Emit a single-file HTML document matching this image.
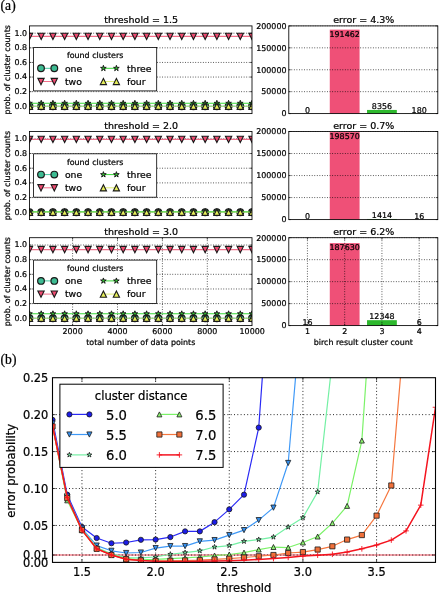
<!DOCTYPE html>
<html><head><meta charset="utf-8"><title>figure</title>
<style>html,body{margin:0;padding:0;background:#fff}svg{display:block}text{white-space:pre;stroke:#000;stroke-width:0.22px;paint-order:stroke}</style></head>
<body>
<svg width="439" height="592" viewBox="0 0 439 592" font-family='"DejaVu Sans", "Liberation Sans", sans-serif' stroke-linecap="butt">
<rect width="439" height="592" fill="#fff"/>
<text x="0.6" y="10" font-size="13.6" text-anchor="start" fill="#000" font-family='"Liberation Serif", "DejaVu Serif", serif'>(a)</text>
<text x="0.6" y="364.2" font-size="13.6" text-anchor="start" fill="#000" font-family='"Liberation Serif", "DejaVu Serif", serif'>(b)</text>
<clipPath id="cl0"><rect x="29.5" y="25.9" width="222.5" height="87.7"/></clipPath>
<g clip-path="url(#cl0)">
<path d="M29.5 106.29H252.0" stroke="#000" stroke-width="0.7" stroke-dasharray="0.9 1.65"/>
<path d="M29.5 91.67H252.0" stroke="#000" stroke-width="0.7" stroke-dasharray="0.9 1.65"/>
<path d="M29.5 77.06H252.0" stroke="#000" stroke-width="0.7" stroke-dasharray="0.9 1.65"/>
<path d="M29.5 62.44H252.0" stroke="#000" stroke-width="0.7" stroke-dasharray="0.9 1.65"/>
<path d="M29.5 47.83H252.0" stroke="#000" stroke-width="0.7" stroke-dasharray="0.9 1.65"/>
<path d="M29.5 33.21H252.0" stroke="#000" stroke-width="0.7" stroke-dasharray="0.9 1.65"/>
<path d="M29.5 106.29H252.0" stroke="#45c9a0" stroke-width="1.15" stroke-opacity="1"/>
<circle cx="29.5" cy="106.29" r="3.35" fill="#3dbb92" stroke="#1a1a1a" stroke-width="1.2"/>
<circle cx="41.21" cy="106.29" r="3.35" fill="#3dbb92" stroke="#1a1a1a" stroke-width="1.2"/>
<circle cx="52.92" cy="106.29" r="3.35" fill="#3dbb92" stroke="#1a1a1a" stroke-width="1.2"/>
<circle cx="64.63" cy="106.29" r="3.35" fill="#3dbb92" stroke="#1a1a1a" stroke-width="1.2"/>
<circle cx="76.34" cy="106.29" r="3.35" fill="#3dbb92" stroke="#1a1a1a" stroke-width="1.2"/>
<circle cx="88.05" cy="106.29" r="3.35" fill="#3dbb92" stroke="#1a1a1a" stroke-width="1.2"/>
<circle cx="99.76" cy="106.29" r="3.35" fill="#3dbb92" stroke="#1a1a1a" stroke-width="1.2"/>
<circle cx="111.47" cy="106.29" r="3.35" fill="#3dbb92" stroke="#1a1a1a" stroke-width="1.2"/>
<circle cx="123.18" cy="106.29" r="3.35" fill="#3dbb92" stroke="#1a1a1a" stroke-width="1.2"/>
<circle cx="134.89" cy="106.29" r="3.35" fill="#3dbb92" stroke="#1a1a1a" stroke-width="1.2"/>
<circle cx="146.61" cy="106.29" r="3.35" fill="#3dbb92" stroke="#1a1a1a" stroke-width="1.2"/>
<circle cx="158.32" cy="106.29" r="3.35" fill="#3dbb92" stroke="#1a1a1a" stroke-width="1.2"/>
<circle cx="170.03" cy="106.29" r="3.35" fill="#3dbb92" stroke="#1a1a1a" stroke-width="1.2"/>
<circle cx="181.74" cy="106.29" r="3.35" fill="#3dbb92" stroke="#1a1a1a" stroke-width="1.2"/>
<circle cx="193.45" cy="106.29" r="3.35" fill="#3dbb92" stroke="#1a1a1a" stroke-width="1.2"/>
<circle cx="205.16" cy="106.29" r="3.35" fill="#3dbb92" stroke="#1a1a1a" stroke-width="1.2"/>
<circle cx="216.87" cy="106.29" r="3.35" fill="#3dbb92" stroke="#1a1a1a" stroke-width="1.2"/>
<circle cx="228.58" cy="106.29" r="3.35" fill="#3dbb92" stroke="#1a1a1a" stroke-width="1.2"/>
<circle cx="240.29" cy="106.29" r="3.35" fill="#3dbb92" stroke="#1a1a1a" stroke-width="1.2"/>
<circle cx="252" cy="106.29" r="3.35" fill="#3dbb92" stroke="#1a1a1a" stroke-width="1.2"/>
<path d="M29.5 36.33H252.0" stroke="#f2708a" stroke-width="1.15" stroke-opacity="1"/>
<polygon points="26.35,33.18 32.65,33.18 29.5,39.48" fill="#ee4a70" stroke="#1a1a1a" stroke-width="1.1" stroke-linejoin="miter"/>
<polygon points="38.06,33.18 44.36,33.18 41.21,39.48" fill="#ee4a70" stroke="#1a1a1a" stroke-width="1.1" stroke-linejoin="miter"/>
<polygon points="49.77,33.18 56.07,33.18 52.92,39.48" fill="#ee4a70" stroke="#1a1a1a" stroke-width="1.1" stroke-linejoin="miter"/>
<polygon points="61.48,33.18 67.78,33.18 64.63,39.48" fill="#ee4a70" stroke="#1a1a1a" stroke-width="1.1" stroke-linejoin="miter"/>
<polygon points="73.19,33.18 79.49,33.18 76.34,39.48" fill="#ee4a70" stroke="#1a1a1a" stroke-width="1.1" stroke-linejoin="miter"/>
<polygon points="84.9,33.18 91.2,33.18 88.05,39.48" fill="#ee4a70" stroke="#1a1a1a" stroke-width="1.1" stroke-linejoin="miter"/>
<polygon points="96.61,33.18 102.91,33.18 99.76,39.48" fill="#ee4a70" stroke="#1a1a1a" stroke-width="1.1" stroke-linejoin="miter"/>
<polygon points="108.32,33.18 114.62,33.18 111.47,39.48" fill="#ee4a70" stroke="#1a1a1a" stroke-width="1.1" stroke-linejoin="miter"/>
<polygon points="120.03,33.18 126.33,33.18 123.18,39.48" fill="#ee4a70" stroke="#1a1a1a" stroke-width="1.1" stroke-linejoin="miter"/>
<polygon points="131.74,33.18 138.04,33.18 134.89,39.48" fill="#ee4a70" stroke="#1a1a1a" stroke-width="1.1" stroke-linejoin="miter"/>
<polygon points="143.46,33.18 149.76,33.18 146.61,39.48" fill="#ee4a70" stroke="#1a1a1a" stroke-width="1.1" stroke-linejoin="miter"/>
<polygon points="155.17,33.18 161.47,33.18 158.32,39.48" fill="#ee4a70" stroke="#1a1a1a" stroke-width="1.1" stroke-linejoin="miter"/>
<polygon points="166.88,33.18 173.18,33.18 170.03,39.48" fill="#ee4a70" stroke="#1a1a1a" stroke-width="1.1" stroke-linejoin="miter"/>
<polygon points="178.59,33.18 184.89,33.18 181.74,39.48" fill="#ee4a70" stroke="#1a1a1a" stroke-width="1.1" stroke-linejoin="miter"/>
<polygon points="190.3,33.18 196.6,33.18 193.45,39.48" fill="#ee4a70" stroke="#1a1a1a" stroke-width="1.1" stroke-linejoin="miter"/>
<polygon points="202.01,33.18 208.31,33.18 205.16,39.48" fill="#ee4a70" stroke="#1a1a1a" stroke-width="1.1" stroke-linejoin="miter"/>
<polygon points="213.72,33.18 220.02,33.18 216.87,39.48" fill="#ee4a70" stroke="#1a1a1a" stroke-width="1.1" stroke-linejoin="miter"/>
<polygon points="225.43,33.18 231.73,33.18 228.58,39.48" fill="#ee4a70" stroke="#1a1a1a" stroke-width="1.1" stroke-linejoin="miter"/>
<polygon points="237.14,33.18 243.44,33.18 240.29,39.48" fill="#ee4a70" stroke="#1a1a1a" stroke-width="1.1" stroke-linejoin="miter"/>
<polygon points="248.85,33.18 255.15,33.18 252,39.48" fill="#ee4a70" stroke="#1a1a1a" stroke-width="1.1" stroke-linejoin="miter"/>
<path d="M29.5 103.24H252.0" stroke="#38d838" stroke-width="1.15" stroke-opacity="1"/>
<polygon points="29.5,100.29 30.16,102.33 32.31,102.33 30.57,103.59 31.23,105.62 29.5,104.37 27.77,105.62 28.43,103.59 26.69,102.33 28.84,102.33" fill="#2fc42f" stroke="#1a1a1a" stroke-width="1.0" stroke-linejoin="miter"/>
<polygon points="41.21,100.29 41.87,102.33 44.02,102.33 42.28,103.59 42.94,105.62 41.21,104.37 39.48,105.62 40.14,103.59 38.4,102.33 40.55,102.33" fill="#2fc42f" stroke="#1a1a1a" stroke-width="1.0" stroke-linejoin="miter"/>
<polygon points="52.92,100.29 53.58,102.33 55.73,102.33 53.99,103.59 54.66,105.62 52.92,104.37 51.19,105.62 51.85,103.59 50.12,102.33 52.26,102.33" fill="#2fc42f" stroke="#1a1a1a" stroke-width="1.0" stroke-linejoin="miter"/>
<polygon points="64.63,100.29 65.29,102.33 67.44,102.33 65.7,103.59 66.37,105.62 64.63,104.37 62.9,105.62 63.56,103.59 61.83,102.33 63.97,102.33" fill="#2fc42f" stroke="#1a1a1a" stroke-width="1.0" stroke-linejoin="miter"/>
<polygon points="76.34,100.29 77,102.33 79.15,102.33 77.41,103.59 78.08,105.62 76.34,104.37 74.61,105.62 75.27,103.59 73.54,102.33 75.68,102.33" fill="#2fc42f" stroke="#1a1a1a" stroke-width="1.0" stroke-linejoin="miter"/>
<polygon points="88.05,100.29 88.71,102.33 90.86,102.33 89.12,103.59 89.79,105.62 88.05,104.37 86.32,105.62 86.98,103.59 85.25,102.33 87.39,102.33" fill="#2fc42f" stroke="#1a1a1a" stroke-width="1.0" stroke-linejoin="miter"/>
<polygon points="99.76,100.29 100.43,102.33 102.57,102.33 100.83,103.59 101.5,105.62 99.76,104.37 98.03,105.62 98.69,103.59 96.96,102.33 99.1,102.33" fill="#2fc42f" stroke="#1a1a1a" stroke-width="1.0" stroke-linejoin="miter"/>
<polygon points="111.47,100.29 112.14,102.33 114.28,102.33 112.55,103.59 113.21,105.62 111.47,104.37 109.74,105.62 110.4,103.59 108.67,102.33 110.81,102.33" fill="#2fc42f" stroke="#1a1a1a" stroke-width="1.0" stroke-linejoin="miter"/>
<polygon points="123.18,100.29 123.85,102.33 125.99,102.33 124.26,103.59 124.92,105.62 123.18,104.37 121.45,105.62 122.11,103.59 120.38,102.33 122.52,102.33" fill="#2fc42f" stroke="#1a1a1a" stroke-width="1.0" stroke-linejoin="miter"/>
<polygon points="134.89,100.29 135.56,102.33 137.7,102.33 135.97,103.59 136.63,105.62 134.89,104.37 133.16,105.62 133.82,103.59 132.09,102.33 134.23,102.33" fill="#2fc42f" stroke="#1a1a1a" stroke-width="1.0" stroke-linejoin="miter"/>
<polygon points="146.61,100.29 147.27,102.33 149.41,102.33 147.68,103.59 148.34,105.62 146.61,104.37 144.87,105.62 145.53,103.59 143.8,102.33 145.94,102.33" fill="#2fc42f" stroke="#1a1a1a" stroke-width="1.0" stroke-linejoin="miter"/>
<polygon points="158.32,100.29 158.98,102.33 161.12,102.33 159.39,103.59 160.05,105.62 158.32,104.37 156.58,105.62 157.24,103.59 155.51,102.33 157.65,102.33" fill="#2fc42f" stroke="#1a1a1a" stroke-width="1.0" stroke-linejoin="miter"/>
<polygon points="170.03,100.29 170.69,102.33 172.83,102.33 171.1,103.59 171.76,105.62 170.03,104.37 168.29,105.62 168.95,103.59 167.22,102.33 169.36,102.33" fill="#2fc42f" stroke="#1a1a1a" stroke-width="1.0" stroke-linejoin="miter"/>
<polygon points="181.74,100.29 182.4,102.33 184.54,102.33 182.81,103.59 183.47,105.62 181.74,104.37 180,105.62 180.67,103.59 178.93,102.33 181.07,102.33" fill="#2fc42f" stroke="#1a1a1a" stroke-width="1.0" stroke-linejoin="miter"/>
<polygon points="193.45,100.29 194.11,102.33 196.25,102.33 194.52,103.59 195.18,105.62 193.45,104.37 191.71,105.62 192.38,103.59 190.64,102.33 192.79,102.33" fill="#2fc42f" stroke="#1a1a1a" stroke-width="1.0" stroke-linejoin="miter"/>
<polygon points="205.16,100.29 205.82,102.33 207.96,102.33 206.23,103.59 206.89,105.62 205.16,104.37 203.42,105.62 204.09,103.59 202.35,102.33 204.5,102.33" fill="#2fc42f" stroke="#1a1a1a" stroke-width="1.0" stroke-linejoin="miter"/>
<polygon points="216.87,100.29 217.53,102.33 219.67,102.33 217.94,103.59 218.6,105.62 216.87,104.37 215.13,105.62 215.8,103.59 214.06,102.33 216.21,102.33" fill="#2fc42f" stroke="#1a1a1a" stroke-width="1.0" stroke-linejoin="miter"/>
<polygon points="228.58,100.29 229.24,102.33 231.38,102.33 229.65,103.59 230.31,105.62 228.58,104.37 226.84,105.62 227.51,103.59 225.77,102.33 227.92,102.33" fill="#2fc42f" stroke="#1a1a1a" stroke-width="1.0" stroke-linejoin="miter"/>
<polygon points="240.29,100.29 240.95,102.33 243.1,102.33 241.36,103.59 242.02,105.62 240.29,104.37 238.56,105.62 239.22,103.59 237.48,102.33 239.63,102.33" fill="#2fc42f" stroke="#1a1a1a" stroke-width="1.0" stroke-linejoin="miter"/>
<polygon points="252,100.29 252.66,102.33 254.81,102.33 253.07,103.59 253.73,105.62 252,104.37 250.27,105.62 250.93,103.59 249.19,102.33 251.34,102.33" fill="#2fc42f" stroke="#1a1a1a" stroke-width="1.0" stroke-linejoin="miter"/>
<path d="M29.5 106.23H252.0" stroke="#e0ee78" stroke-width="1.15" stroke-opacity="0.7"/>
<polygon points="26.4,109.33 32.6,109.33 29.5,103.13" fill="#e6ee5a" stroke="#1a1a1a" stroke-width="1.1" stroke-linejoin="miter"/>
<polygon points="38.11,109.33 44.31,109.33 41.21,103.13" fill="#e6ee5a" stroke="#1a1a1a" stroke-width="1.1" stroke-linejoin="miter"/>
<polygon points="49.82,109.33 56.02,109.33 52.92,103.13" fill="#e6ee5a" stroke="#1a1a1a" stroke-width="1.1" stroke-linejoin="miter"/>
<polygon points="61.53,109.33 67.73,109.33 64.63,103.13" fill="#e6ee5a" stroke="#1a1a1a" stroke-width="1.1" stroke-linejoin="miter"/>
<polygon points="73.24,109.33 79.44,109.33 76.34,103.13" fill="#e6ee5a" stroke="#1a1a1a" stroke-width="1.1" stroke-linejoin="miter"/>
<polygon points="84.95,109.33 91.15,109.33 88.05,103.13" fill="#e6ee5a" stroke="#1a1a1a" stroke-width="1.1" stroke-linejoin="miter"/>
<polygon points="96.66,109.33 102.86,109.33 99.76,103.13" fill="#e6ee5a" stroke="#1a1a1a" stroke-width="1.1" stroke-linejoin="miter"/>
<polygon points="108.37,109.33 114.57,109.33 111.47,103.13" fill="#e6ee5a" stroke="#1a1a1a" stroke-width="1.1" stroke-linejoin="miter"/>
<polygon points="120.08,109.33 126.28,109.33 123.18,103.13" fill="#e6ee5a" stroke="#1a1a1a" stroke-width="1.1" stroke-linejoin="miter"/>
<polygon points="131.79,109.33 137.99,109.33 134.89,103.13" fill="#e6ee5a" stroke="#1a1a1a" stroke-width="1.1" stroke-linejoin="miter"/>
<polygon points="143.51,109.33 149.71,109.33 146.61,103.13" fill="#e6ee5a" stroke="#1a1a1a" stroke-width="1.1" stroke-linejoin="miter"/>
<polygon points="155.22,109.33 161.42,109.33 158.32,103.13" fill="#e6ee5a" stroke="#1a1a1a" stroke-width="1.1" stroke-linejoin="miter"/>
<polygon points="166.93,109.33 173.13,109.33 170.03,103.13" fill="#e6ee5a" stroke="#1a1a1a" stroke-width="1.1" stroke-linejoin="miter"/>
<polygon points="178.64,109.33 184.84,109.33 181.74,103.13" fill="#e6ee5a" stroke="#1a1a1a" stroke-width="1.1" stroke-linejoin="miter"/>
<polygon points="190.35,109.33 196.55,109.33 193.45,103.13" fill="#e6ee5a" stroke="#1a1a1a" stroke-width="1.1" stroke-linejoin="miter"/>
<polygon points="202.06,109.33 208.26,109.33 205.16,103.13" fill="#e6ee5a" stroke="#1a1a1a" stroke-width="1.1" stroke-linejoin="miter"/>
<polygon points="213.77,109.33 219.97,109.33 216.87,103.13" fill="#e6ee5a" stroke="#1a1a1a" stroke-width="1.1" stroke-linejoin="miter"/>
<polygon points="225.48,109.33 231.68,109.33 228.58,103.13" fill="#e6ee5a" stroke="#1a1a1a" stroke-width="1.1" stroke-linejoin="miter"/>
<polygon points="237.19,109.33 243.39,109.33 240.29,103.13" fill="#e6ee5a" stroke="#1a1a1a" stroke-width="1.1" stroke-linejoin="miter"/>
<polygon points="248.9,109.33 255.1,109.33 252,103.13" fill="#e6ee5a" stroke="#1a1a1a" stroke-width="1.1" stroke-linejoin="miter"/>
</g>
<rect x="33.6" y="47.5" width="123.1" height="43.4" fill="#fff" stroke="#000" stroke-width="0.8"/>
<text x="95.1" y="58.2" font-size="7.95" text-anchor="middle" fill="#000">found clusters</text>
<path d="M41.0 68.3H54.3" stroke="#45c9a0" stroke-width="1"/>
<circle cx="41" cy="68.3" r="3.35" fill="#3dbb92" stroke="#1a1a1a" stroke-width="1.2"/>
<circle cx="54.3" cy="68.3" r="3.35" fill="#3dbb92" stroke="#1a1a1a" stroke-width="1.2"/>
<text x="64.9" y="71.5" font-size="9.3" text-anchor="start" fill="#000">one</text>
<path d="M41.0 81.5H54.3" stroke="#f2708a" stroke-width="1"/>
<polygon points="37.85,78.35 44.15,78.35 41,84.65" fill="#ee4a70" stroke="#1a1a1a" stroke-width="1.1" stroke-linejoin="miter"/>
<polygon points="51.15,78.35 57.45,78.35 54.3,84.65" fill="#ee4a70" stroke="#1a1a1a" stroke-width="1.1" stroke-linejoin="miter"/>
<text x="64.9" y="84.7" font-size="9.3" text-anchor="start" fill="#000">two</text>
<path d="M103.4 68.3H116.4" stroke="#38d838" stroke-width="1"/>
<polygon points="103.4,65.35 104.06,67.39 106.21,67.39 104.47,68.65 105.13,70.69 103.4,69.43 101.67,70.69 102.33,68.65 100.59,67.39 102.74,67.39" fill="#2fc42f" stroke="#1a1a1a" stroke-width="1.0" stroke-linejoin="miter"/>
<polygon points="116.4,65.35 117.06,67.39 119.21,67.39 117.47,68.65 118.13,70.69 116.4,69.43 114.67,70.69 115.33,68.65 113.59,67.39 115.74,67.39" fill="#2fc42f" stroke="#1a1a1a" stroke-width="1.0" stroke-linejoin="miter"/>
<text x="126.9" y="71.5" font-size="9.3" text-anchor="start" fill="#000">three</text>
<path d="M103.4 81.5H116.4" stroke="#e0ee78" stroke-width="1"/>
<polygon points="100.3,84.6 106.5,84.6 103.4,78.4" fill="#e6ee5a" stroke="#1a1a1a" stroke-width="1.1" stroke-linejoin="miter"/>
<polygon points="113.3,84.6 119.5,84.6 116.4,78.4" fill="#e6ee5a" stroke="#1a1a1a" stroke-width="1.1" stroke-linejoin="miter"/>
<text x="126.9" y="84.7" font-size="9.3" text-anchor="start" fill="#000">four</text>
<rect x="29.5" y="25.9" width="222.5" height="87.7" fill="none" stroke="#000" stroke-width="0.85"/>
<text x="27.1" y="108.59" font-size="7.95" text-anchor="end" fill="#000">0.0</text>
<text x="27.1" y="93.97" font-size="7.95" text-anchor="end" fill="#000">0.2</text>
<text x="27.1" y="79.36" font-size="7.95" text-anchor="end" fill="#000">0.4</text>
<text x="27.1" y="64.74" font-size="7.95" text-anchor="end" fill="#000">0.6</text>
<text x="27.1" y="50.12" font-size="7.95" text-anchor="end" fill="#000">0.8</text>
<text x="27.1" y="35.51" font-size="7.95" text-anchor="end" fill="#000">1.0</text>
<path d="M29.5 106.29h2M252.0 106.29h-2M29.5 91.67h2M252.0 91.67h-2M29.5 77.06h2M252.0 77.06h-2M29.5 62.44h2M252.0 62.44h-2M29.5 47.83h2M252.0 47.83h-2M29.5 33.21h2M252.0 33.21h-2" stroke="#000" stroke-width="0.6"/>
<text x="141.25" y="23.1" font-size="9.5" text-anchor="middle" fill="#000">threshold = 1.5</text>
<text x="10.2" y="69.75" font-size="7.95" text-anchor="middle" fill="#000" transform="rotate(-90 10.2 69.75)">prob. of cluster counts</text>
<rect x="329.78" y="29.64" width="29.8" height="83.96" fill="#ef5077"/>
<rect x="367.03" y="109.94" width="29.8" height="3.66" fill="#2db82d"/>
<rect x="404.28" y="113.52" width="29.8" height="0.08" fill="#2db82d"/>
<path d="M288.8 91.67H437.8" stroke="#000" stroke-width="0.7" stroke-dasharray="0.9 1.65"/>
<path d="M288.8 69.75H437.8" stroke="#000" stroke-width="0.7" stroke-dasharray="0.9 1.65"/>
<path d="M288.8 47.83H437.8" stroke="#000" stroke-width="0.7" stroke-dasharray="0.9 1.65"/>
<rect x="288.8" y="25.9" width="149" height="87.7" fill="none" stroke="#000" stroke-width="0.85"/>
<path d="M288.8 25.9H437.8" stroke="#000" stroke-width="0.5" stroke-dasharray="0.7 1.7"/>
<text x="307.43" y="112.6" font-size="7.95" text-anchor="middle" fill="#000">0</text>
<text x="344.68" y="36.64" font-size="7.95" text-anchor="middle" fill="#000">191462</text>
<text x="381.93" y="108.94" font-size="7.95" text-anchor="middle" fill="#000">8356</text>
<text x="419.18" y="112.52" font-size="7.95" text-anchor="middle" fill="#000">180</text>
<text x="286.5" y="116.4" font-size="7.95" text-anchor="end" fill="#000">0</text>
<text x="286.5" y="94.47" font-size="7.95" text-anchor="end" fill="#000">50000</text>
<text x="286.5" y="72.55" font-size="7.95" text-anchor="end" fill="#000">100000</text>
<text x="286.5" y="50.62" font-size="7.95" text-anchor="end" fill="#000">150000</text>
<text x="286.5" y="28.7" font-size="7.95" text-anchor="end" fill="#000">200000</text>
<path d="M288.8 113.6h2M437.8 113.6h-2M288.8 91.67h2M437.8 91.67h-2M288.8 69.75h2M437.8 69.75h-2M288.8 47.83h2M437.8 47.83h-2M288.8 25.9h2M437.8 25.9h-2" stroke="#000" stroke-width="0.6"/>
<text x="363.8" y="23.1" font-size="9.5" text-anchor="middle" fill="#000">error = 4.3%</text>
<clipPath id="cl1"><rect x="29.5" y="131.5" width="222.5" height="88.1"/></clipPath>
<g clip-path="url(#cl1)">
<path d="M29.5 212.26H252.0" stroke="#000" stroke-width="0.7" stroke-dasharray="0.9 1.65"/>
<path d="M29.5 197.57H252.0" stroke="#000" stroke-width="0.7" stroke-dasharray="0.9 1.65"/>
<path d="M29.5 182.89H252.0" stroke="#000" stroke-width="0.7" stroke-dasharray="0.9 1.65"/>
<path d="M29.5 168.21H252.0" stroke="#000" stroke-width="0.7" stroke-dasharray="0.9 1.65"/>
<path d="M29.5 153.53H252.0" stroke="#000" stroke-width="0.7" stroke-dasharray="0.9 1.65"/>
<path d="M29.5 138.84H252.0" stroke="#000" stroke-width="0.7" stroke-dasharray="0.9 1.65"/>
<path d="M29.5 212.26H252.0" stroke="#45c9a0" stroke-width="1.15" stroke-opacity="1"/>
<circle cx="29.5" cy="212.26" r="3.35" fill="#3dbb92" stroke="#1a1a1a" stroke-width="1.2"/>
<circle cx="41.21" cy="212.26" r="3.35" fill="#3dbb92" stroke="#1a1a1a" stroke-width="1.2"/>
<circle cx="52.92" cy="212.26" r="3.35" fill="#3dbb92" stroke="#1a1a1a" stroke-width="1.2"/>
<circle cx="64.63" cy="212.26" r="3.35" fill="#3dbb92" stroke="#1a1a1a" stroke-width="1.2"/>
<circle cx="76.34" cy="212.26" r="3.35" fill="#3dbb92" stroke="#1a1a1a" stroke-width="1.2"/>
<circle cx="88.05" cy="212.26" r="3.35" fill="#3dbb92" stroke="#1a1a1a" stroke-width="1.2"/>
<circle cx="99.76" cy="212.26" r="3.35" fill="#3dbb92" stroke="#1a1a1a" stroke-width="1.2"/>
<circle cx="111.47" cy="212.26" r="3.35" fill="#3dbb92" stroke="#1a1a1a" stroke-width="1.2"/>
<circle cx="123.18" cy="212.26" r="3.35" fill="#3dbb92" stroke="#1a1a1a" stroke-width="1.2"/>
<circle cx="134.89" cy="212.26" r="3.35" fill="#3dbb92" stroke="#1a1a1a" stroke-width="1.2"/>
<circle cx="146.61" cy="212.26" r="3.35" fill="#3dbb92" stroke="#1a1a1a" stroke-width="1.2"/>
<circle cx="158.32" cy="212.26" r="3.35" fill="#3dbb92" stroke="#1a1a1a" stroke-width="1.2"/>
<circle cx="170.03" cy="212.26" r="3.35" fill="#3dbb92" stroke="#1a1a1a" stroke-width="1.2"/>
<circle cx="181.74" cy="212.26" r="3.35" fill="#3dbb92" stroke="#1a1a1a" stroke-width="1.2"/>
<circle cx="193.45" cy="212.26" r="3.35" fill="#3dbb92" stroke="#1a1a1a" stroke-width="1.2"/>
<circle cx="205.16" cy="212.26" r="3.35" fill="#3dbb92" stroke="#1a1a1a" stroke-width="1.2"/>
<circle cx="216.87" cy="212.26" r="3.35" fill="#3dbb92" stroke="#1a1a1a" stroke-width="1.2"/>
<circle cx="228.58" cy="212.26" r="3.35" fill="#3dbb92" stroke="#1a1a1a" stroke-width="1.2"/>
<circle cx="240.29" cy="212.26" r="3.35" fill="#3dbb92" stroke="#1a1a1a" stroke-width="1.2"/>
<circle cx="252" cy="212.26" r="3.35" fill="#3dbb92" stroke="#1a1a1a" stroke-width="1.2"/>
<path d="M29.5 139.37H252.0" stroke="#f2708a" stroke-width="1.15" stroke-opacity="1"/>
<polygon points="26.35,136.22 32.65,136.22 29.5,142.52" fill="#ee4a70" stroke="#1a1a1a" stroke-width="1.1" stroke-linejoin="miter"/>
<polygon points="38.06,136.22 44.36,136.22 41.21,142.52" fill="#ee4a70" stroke="#1a1a1a" stroke-width="1.1" stroke-linejoin="miter"/>
<polygon points="49.77,136.22 56.07,136.22 52.92,142.52" fill="#ee4a70" stroke="#1a1a1a" stroke-width="1.1" stroke-linejoin="miter"/>
<polygon points="61.48,136.22 67.78,136.22 64.63,142.52" fill="#ee4a70" stroke="#1a1a1a" stroke-width="1.1" stroke-linejoin="miter"/>
<polygon points="73.19,136.22 79.49,136.22 76.34,142.52" fill="#ee4a70" stroke="#1a1a1a" stroke-width="1.1" stroke-linejoin="miter"/>
<polygon points="84.9,136.22 91.2,136.22 88.05,142.52" fill="#ee4a70" stroke="#1a1a1a" stroke-width="1.1" stroke-linejoin="miter"/>
<polygon points="96.61,136.22 102.91,136.22 99.76,142.52" fill="#ee4a70" stroke="#1a1a1a" stroke-width="1.1" stroke-linejoin="miter"/>
<polygon points="108.32,136.22 114.62,136.22 111.47,142.52" fill="#ee4a70" stroke="#1a1a1a" stroke-width="1.1" stroke-linejoin="miter"/>
<polygon points="120.03,136.22 126.33,136.22 123.18,142.52" fill="#ee4a70" stroke="#1a1a1a" stroke-width="1.1" stroke-linejoin="miter"/>
<polygon points="131.74,136.22 138.04,136.22 134.89,142.52" fill="#ee4a70" stroke="#1a1a1a" stroke-width="1.1" stroke-linejoin="miter"/>
<polygon points="143.46,136.22 149.76,136.22 146.61,142.52" fill="#ee4a70" stroke="#1a1a1a" stroke-width="1.1" stroke-linejoin="miter"/>
<polygon points="155.17,136.22 161.47,136.22 158.32,142.52" fill="#ee4a70" stroke="#1a1a1a" stroke-width="1.1" stroke-linejoin="miter"/>
<polygon points="166.88,136.22 173.18,136.22 170.03,142.52" fill="#ee4a70" stroke="#1a1a1a" stroke-width="1.1" stroke-linejoin="miter"/>
<polygon points="178.59,136.22 184.89,136.22 181.74,142.52" fill="#ee4a70" stroke="#1a1a1a" stroke-width="1.1" stroke-linejoin="miter"/>
<polygon points="190.3,136.22 196.6,136.22 193.45,142.52" fill="#ee4a70" stroke="#1a1a1a" stroke-width="1.1" stroke-linejoin="miter"/>
<polygon points="202.01,136.22 208.31,136.22 205.16,142.52" fill="#ee4a70" stroke="#1a1a1a" stroke-width="1.1" stroke-linejoin="miter"/>
<polygon points="213.72,136.22 220.02,136.22 216.87,142.52" fill="#ee4a70" stroke="#1a1a1a" stroke-width="1.1" stroke-linejoin="miter"/>
<polygon points="225.43,136.22 231.73,136.22 228.58,142.52" fill="#ee4a70" stroke="#1a1a1a" stroke-width="1.1" stroke-linejoin="miter"/>
<polygon points="237.14,136.22 243.44,136.22 240.29,142.52" fill="#ee4a70" stroke="#1a1a1a" stroke-width="1.1" stroke-linejoin="miter"/>
<polygon points="248.85,136.22 255.15,136.22 252,142.52" fill="#ee4a70" stroke="#1a1a1a" stroke-width="1.1" stroke-linejoin="miter"/>
<path d="M29.5 211.74H252.0" stroke="#38d838" stroke-width="1.15" stroke-opacity="1"/>
<polygon points="29.5,208.79 30.16,210.83 32.31,210.83 30.57,212.09 31.23,214.13 29.5,212.87 27.77,214.13 28.43,212.09 26.69,210.83 28.84,210.83" fill="#2fc42f" stroke="#1a1a1a" stroke-width="1.0" stroke-linejoin="miter"/>
<polygon points="41.21,208.79 41.87,210.83 44.02,210.83 42.28,212.09 42.94,214.13 41.21,212.87 39.48,214.13 40.14,212.09 38.4,210.83 40.55,210.83" fill="#2fc42f" stroke="#1a1a1a" stroke-width="1.0" stroke-linejoin="miter"/>
<polygon points="52.92,208.79 53.58,210.83 55.73,210.83 53.99,212.09 54.66,214.13 52.92,212.87 51.19,214.13 51.85,212.09 50.12,210.83 52.26,210.83" fill="#2fc42f" stroke="#1a1a1a" stroke-width="1.0" stroke-linejoin="miter"/>
<polygon points="64.63,208.79 65.29,210.83 67.44,210.83 65.7,212.09 66.37,214.13 64.63,212.87 62.9,214.13 63.56,212.09 61.83,210.83 63.97,210.83" fill="#2fc42f" stroke="#1a1a1a" stroke-width="1.0" stroke-linejoin="miter"/>
<polygon points="76.34,208.79 77,210.83 79.15,210.83 77.41,212.09 78.08,214.13 76.34,212.87 74.61,214.13 75.27,212.09 73.54,210.83 75.68,210.83" fill="#2fc42f" stroke="#1a1a1a" stroke-width="1.0" stroke-linejoin="miter"/>
<polygon points="88.05,208.79 88.71,210.83 90.86,210.83 89.12,212.09 89.79,214.13 88.05,212.87 86.32,214.13 86.98,212.09 85.25,210.83 87.39,210.83" fill="#2fc42f" stroke="#1a1a1a" stroke-width="1.0" stroke-linejoin="miter"/>
<polygon points="99.76,208.79 100.43,210.83 102.57,210.83 100.83,212.09 101.5,214.13 99.76,212.87 98.03,214.13 98.69,212.09 96.96,210.83 99.1,210.83" fill="#2fc42f" stroke="#1a1a1a" stroke-width="1.0" stroke-linejoin="miter"/>
<polygon points="111.47,208.79 112.14,210.83 114.28,210.83 112.55,212.09 113.21,214.13 111.47,212.87 109.74,214.13 110.4,212.09 108.67,210.83 110.81,210.83" fill="#2fc42f" stroke="#1a1a1a" stroke-width="1.0" stroke-linejoin="miter"/>
<polygon points="123.18,208.79 123.85,210.83 125.99,210.83 124.26,212.09 124.92,214.13 123.18,212.87 121.45,214.13 122.11,212.09 120.38,210.83 122.52,210.83" fill="#2fc42f" stroke="#1a1a1a" stroke-width="1.0" stroke-linejoin="miter"/>
<polygon points="134.89,208.79 135.56,210.83 137.7,210.83 135.97,212.09 136.63,214.13 134.89,212.87 133.16,214.13 133.82,212.09 132.09,210.83 134.23,210.83" fill="#2fc42f" stroke="#1a1a1a" stroke-width="1.0" stroke-linejoin="miter"/>
<polygon points="146.61,208.79 147.27,210.83 149.41,210.83 147.68,212.09 148.34,214.13 146.61,212.87 144.87,214.13 145.53,212.09 143.8,210.83 145.94,210.83" fill="#2fc42f" stroke="#1a1a1a" stroke-width="1.0" stroke-linejoin="miter"/>
<polygon points="158.32,208.79 158.98,210.83 161.12,210.83 159.39,212.09 160.05,214.13 158.32,212.87 156.58,214.13 157.24,212.09 155.51,210.83 157.65,210.83" fill="#2fc42f" stroke="#1a1a1a" stroke-width="1.0" stroke-linejoin="miter"/>
<polygon points="170.03,208.79 170.69,210.83 172.83,210.83 171.1,212.09 171.76,214.13 170.03,212.87 168.29,214.13 168.95,212.09 167.22,210.83 169.36,210.83" fill="#2fc42f" stroke="#1a1a1a" stroke-width="1.0" stroke-linejoin="miter"/>
<polygon points="181.74,208.79 182.4,210.83 184.54,210.83 182.81,212.09 183.47,214.13 181.74,212.87 180,214.13 180.67,212.09 178.93,210.83 181.07,210.83" fill="#2fc42f" stroke="#1a1a1a" stroke-width="1.0" stroke-linejoin="miter"/>
<polygon points="193.45,208.79 194.11,210.83 196.25,210.83 194.52,212.09 195.18,214.13 193.45,212.87 191.71,214.13 192.38,212.09 190.64,210.83 192.79,210.83" fill="#2fc42f" stroke="#1a1a1a" stroke-width="1.0" stroke-linejoin="miter"/>
<polygon points="205.16,208.79 205.82,210.83 207.96,210.83 206.23,212.09 206.89,214.13 205.16,212.87 203.42,214.13 204.09,212.09 202.35,210.83 204.5,210.83" fill="#2fc42f" stroke="#1a1a1a" stroke-width="1.0" stroke-linejoin="miter"/>
<polygon points="216.87,208.79 217.53,210.83 219.67,210.83 217.94,212.09 218.6,214.13 216.87,212.87 215.13,214.13 215.8,212.09 214.06,210.83 216.21,210.83" fill="#2fc42f" stroke="#1a1a1a" stroke-width="1.0" stroke-linejoin="miter"/>
<polygon points="228.58,208.79 229.24,210.83 231.38,210.83 229.65,212.09 230.31,214.13 228.58,212.87 226.84,214.13 227.51,212.09 225.77,210.83 227.92,210.83" fill="#2fc42f" stroke="#1a1a1a" stroke-width="1.0" stroke-linejoin="miter"/>
<polygon points="240.29,208.79 240.95,210.83 243.1,210.83 241.36,212.09 242.02,214.13 240.29,212.87 238.56,214.13 239.22,212.09 237.48,210.83 239.63,210.83" fill="#2fc42f" stroke="#1a1a1a" stroke-width="1.0" stroke-linejoin="miter"/>
<polygon points="252,208.79 252.66,210.83 254.81,210.83 253.07,212.09 253.73,214.13 252,212.87 250.27,214.13 250.93,212.09 249.19,210.83 251.34,210.83" fill="#2fc42f" stroke="#1a1a1a" stroke-width="1.0" stroke-linejoin="miter"/>
<path d="M29.5 212.25H252.0" stroke="#e0ee78" stroke-width="1.15" stroke-opacity="0.7"/>
<polygon points="26.4,215.35 32.6,215.35 29.5,209.15" fill="#e6ee5a" stroke="#1a1a1a" stroke-width="1.1" stroke-linejoin="miter"/>
<polygon points="38.11,215.35 44.31,215.35 41.21,209.15" fill="#e6ee5a" stroke="#1a1a1a" stroke-width="1.1" stroke-linejoin="miter"/>
<polygon points="49.82,215.35 56.02,215.35 52.92,209.15" fill="#e6ee5a" stroke="#1a1a1a" stroke-width="1.1" stroke-linejoin="miter"/>
<polygon points="61.53,215.35 67.73,215.35 64.63,209.15" fill="#e6ee5a" stroke="#1a1a1a" stroke-width="1.1" stroke-linejoin="miter"/>
<polygon points="73.24,215.35 79.44,215.35 76.34,209.15" fill="#e6ee5a" stroke="#1a1a1a" stroke-width="1.1" stroke-linejoin="miter"/>
<polygon points="84.95,215.35 91.15,215.35 88.05,209.15" fill="#e6ee5a" stroke="#1a1a1a" stroke-width="1.1" stroke-linejoin="miter"/>
<polygon points="96.66,215.35 102.86,215.35 99.76,209.15" fill="#e6ee5a" stroke="#1a1a1a" stroke-width="1.1" stroke-linejoin="miter"/>
<polygon points="108.37,215.35 114.57,215.35 111.47,209.15" fill="#e6ee5a" stroke="#1a1a1a" stroke-width="1.1" stroke-linejoin="miter"/>
<polygon points="120.08,215.35 126.28,215.35 123.18,209.15" fill="#e6ee5a" stroke="#1a1a1a" stroke-width="1.1" stroke-linejoin="miter"/>
<polygon points="131.79,215.35 137.99,215.35 134.89,209.15" fill="#e6ee5a" stroke="#1a1a1a" stroke-width="1.1" stroke-linejoin="miter"/>
<polygon points="143.51,215.35 149.71,215.35 146.61,209.15" fill="#e6ee5a" stroke="#1a1a1a" stroke-width="1.1" stroke-linejoin="miter"/>
<polygon points="155.22,215.35 161.42,215.35 158.32,209.15" fill="#e6ee5a" stroke="#1a1a1a" stroke-width="1.1" stroke-linejoin="miter"/>
<polygon points="166.93,215.35 173.13,215.35 170.03,209.15" fill="#e6ee5a" stroke="#1a1a1a" stroke-width="1.1" stroke-linejoin="miter"/>
<polygon points="178.64,215.35 184.84,215.35 181.74,209.15" fill="#e6ee5a" stroke="#1a1a1a" stroke-width="1.1" stroke-linejoin="miter"/>
<polygon points="190.35,215.35 196.55,215.35 193.45,209.15" fill="#e6ee5a" stroke="#1a1a1a" stroke-width="1.1" stroke-linejoin="miter"/>
<polygon points="202.06,215.35 208.26,215.35 205.16,209.15" fill="#e6ee5a" stroke="#1a1a1a" stroke-width="1.1" stroke-linejoin="miter"/>
<polygon points="213.77,215.35 219.97,215.35 216.87,209.15" fill="#e6ee5a" stroke="#1a1a1a" stroke-width="1.1" stroke-linejoin="miter"/>
<polygon points="225.48,215.35 231.68,215.35 228.58,209.15" fill="#e6ee5a" stroke="#1a1a1a" stroke-width="1.1" stroke-linejoin="miter"/>
<polygon points="237.19,215.35 243.39,215.35 240.29,209.15" fill="#e6ee5a" stroke="#1a1a1a" stroke-width="1.1" stroke-linejoin="miter"/>
<polygon points="248.9,215.35 255.1,215.35 252,209.15" fill="#e6ee5a" stroke="#1a1a1a" stroke-width="1.1" stroke-linejoin="miter"/>
</g>
<rect x="33.6" y="153.8" width="123.1" height="43.4" fill="#fff" stroke="#000" stroke-width="0.8"/>
<text x="95.1" y="164.5" font-size="7.95" text-anchor="middle" fill="#000">found clusters</text>
<path d="M41.0 174.6H54.3" stroke="#45c9a0" stroke-width="1"/>
<circle cx="41" cy="174.6" r="3.35" fill="#3dbb92" stroke="#1a1a1a" stroke-width="1.2"/>
<circle cx="54.3" cy="174.6" r="3.35" fill="#3dbb92" stroke="#1a1a1a" stroke-width="1.2"/>
<text x="64.9" y="177.8" font-size="9.3" text-anchor="start" fill="#000">one</text>
<path d="M41.0 187.8H54.3" stroke="#f2708a" stroke-width="1"/>
<polygon points="37.85,184.65 44.15,184.65 41,190.95" fill="#ee4a70" stroke="#1a1a1a" stroke-width="1.1" stroke-linejoin="miter"/>
<polygon points="51.15,184.65 57.45,184.65 54.3,190.95" fill="#ee4a70" stroke="#1a1a1a" stroke-width="1.1" stroke-linejoin="miter"/>
<text x="64.9" y="191" font-size="9.3" text-anchor="start" fill="#000">two</text>
<path d="M103.4 174.6H116.4" stroke="#38d838" stroke-width="1"/>
<polygon points="103.4,171.65 104.06,173.69 106.21,173.69 104.47,174.95 105.13,176.99 103.4,175.73 101.67,176.99 102.33,174.95 100.59,173.69 102.74,173.69" fill="#2fc42f" stroke="#1a1a1a" stroke-width="1.0" stroke-linejoin="miter"/>
<polygon points="116.4,171.65 117.06,173.69 119.21,173.69 117.47,174.95 118.13,176.99 116.4,175.73 114.67,176.99 115.33,174.95 113.59,173.69 115.74,173.69" fill="#2fc42f" stroke="#1a1a1a" stroke-width="1.0" stroke-linejoin="miter"/>
<text x="126.9" y="177.8" font-size="9.3" text-anchor="start" fill="#000">three</text>
<path d="M103.4 187.8H116.4" stroke="#e0ee78" stroke-width="1"/>
<polygon points="100.3,190.9 106.5,190.9 103.4,184.7" fill="#e6ee5a" stroke="#1a1a1a" stroke-width="1.1" stroke-linejoin="miter"/>
<polygon points="113.3,190.9 119.5,190.9 116.4,184.7" fill="#e6ee5a" stroke="#1a1a1a" stroke-width="1.1" stroke-linejoin="miter"/>
<text x="126.9" y="191" font-size="9.3" text-anchor="start" fill="#000">four</text>
<rect x="29.5" y="131.5" width="222.5" height="88.1" fill="none" stroke="#000" stroke-width="0.85"/>
<text x="27.1" y="214.56" font-size="7.95" text-anchor="end" fill="#000">0.0</text>
<text x="27.1" y="199.88" font-size="7.95" text-anchor="end" fill="#000">0.2</text>
<text x="27.1" y="185.19" font-size="7.95" text-anchor="end" fill="#000">0.4</text>
<text x="27.1" y="170.51" font-size="7.95" text-anchor="end" fill="#000">0.6</text>
<text x="27.1" y="155.83" font-size="7.95" text-anchor="end" fill="#000">0.8</text>
<text x="27.1" y="141.14" font-size="7.95" text-anchor="end" fill="#000">1.0</text>
<path d="M29.5 212.26h2M252.0 212.26h-2M29.5 197.57h2M252.0 197.57h-2M29.5 182.89h2M252.0 182.89h-2M29.5 168.21h2M252.0 168.21h-2M29.5 153.53h2M252.0 153.53h-2M29.5 138.84h2M252.0 138.84h-2" stroke="#000" stroke-width="0.6"/>
<text x="141.25" y="128.7" font-size="9.5" text-anchor="middle" fill="#000">threshold = 2.0</text>
<text x="10.2" y="175.55" font-size="7.95" text-anchor="middle" fill="#000" transform="rotate(-90 10.2 175.55)">prob. of cluster counts</text>
<rect x="329.78" y="132.13" width="29.8" height="87.47" fill="#ef5077"/>
<rect x="367.03" y="218.98" width="29.8" height="0.62" fill="#2db82d"/>
<path d="M288.8 197.57H437.8" stroke="#000" stroke-width="0.7" stroke-dasharray="0.9 1.65"/>
<path d="M288.8 175.55H437.8" stroke="#000" stroke-width="0.7" stroke-dasharray="0.9 1.65"/>
<path d="M288.8 153.53H437.8" stroke="#000" stroke-width="0.7" stroke-dasharray="0.9 1.65"/>
<rect x="288.8" y="131.5" width="149" height="88.1" fill="none" stroke="#000" stroke-width="0.85"/>
<path d="M288.8 131.5H437.8" stroke="#000" stroke-width="0.5" stroke-dasharray="0.7 1.7"/>
<text x="307.43" y="218.6" font-size="7.95" text-anchor="middle" fill="#000">0</text>
<text x="344.68" y="139.13" font-size="7.95" text-anchor="middle" fill="#000">198570</text>
<text x="381.93" y="217.98" font-size="7.95" text-anchor="middle" fill="#000">1414</text>
<text x="419.18" y="218.59" font-size="7.95" text-anchor="middle" fill="#000">16</text>
<text x="286.5" y="222.4" font-size="7.95" text-anchor="end" fill="#000">0</text>
<text x="286.5" y="200.38" font-size="7.95" text-anchor="end" fill="#000">50000</text>
<text x="286.5" y="178.35" font-size="7.95" text-anchor="end" fill="#000">100000</text>
<text x="286.5" y="156.33" font-size="7.95" text-anchor="end" fill="#000">150000</text>
<text x="286.5" y="134.3" font-size="7.95" text-anchor="end" fill="#000">200000</text>
<path d="M288.8 219.6h2M437.8 219.6h-2M288.8 197.57h2M437.8 197.57h-2M288.8 175.55h2M437.8 175.55h-2M288.8 153.53h2M437.8 153.53h-2M288.8 131.5h2M437.8 131.5h-2" stroke="#000" stroke-width="0.6"/>
<text x="363.8" y="128.7" font-size="9.5" text-anchor="middle" fill="#000">error = 0.7%</text>
<clipPath id="cl2"><rect x="29.5" y="237.7" width="222.5" height="87.9"/></clipPath>
<g clip-path="url(#cl2)">
<path d="M29.5 318.28H252.0" stroke="#000" stroke-width="0.7" stroke-dasharray="0.9 1.65"/>
<path d="M29.5 303.62H252.0" stroke="#000" stroke-width="0.7" stroke-dasharray="0.9 1.65"/>
<path d="M29.5 288.98H252.0" stroke="#000" stroke-width="0.7" stroke-dasharray="0.9 1.65"/>
<path d="M29.5 274.32H252.0" stroke="#000" stroke-width="0.7" stroke-dasharray="0.9 1.65"/>
<path d="M29.5 259.68H252.0" stroke="#000" stroke-width="0.7" stroke-dasharray="0.9 1.65"/>
<path d="M29.5 245.02H252.0" stroke="#000" stroke-width="0.7" stroke-dasharray="0.9 1.65"/>
<path d="M72.6 237.7V325.6" stroke="#000" stroke-width="0.7" stroke-dasharray="0.9 1.65"/>
<path d="M117.5 237.7V325.6" stroke="#000" stroke-width="0.7" stroke-dasharray="0.9 1.65"/>
<path d="M162.4 237.7V325.6" stroke="#000" stroke-width="0.7" stroke-dasharray="0.9 1.65"/>
<path d="M207.3 237.7V325.6" stroke="#000" stroke-width="0.7" stroke-dasharray="0.9 1.65"/>
<path d="M29.5 318.27H252.0" stroke="#45c9a0" stroke-width="1.15" stroke-opacity="1"/>
<circle cx="29.5" cy="318.27" r="3.35" fill="#3dbb92" stroke="#1a1a1a" stroke-width="1.2"/>
<circle cx="41.21" cy="318.27" r="3.35" fill="#3dbb92" stroke="#1a1a1a" stroke-width="1.2"/>
<circle cx="52.92" cy="318.27" r="3.35" fill="#3dbb92" stroke="#1a1a1a" stroke-width="1.2"/>
<circle cx="64.63" cy="318.27" r="3.35" fill="#3dbb92" stroke="#1a1a1a" stroke-width="1.2"/>
<circle cx="76.34" cy="318.27" r="3.35" fill="#3dbb92" stroke="#1a1a1a" stroke-width="1.2"/>
<circle cx="88.05" cy="318.27" r="3.35" fill="#3dbb92" stroke="#1a1a1a" stroke-width="1.2"/>
<circle cx="99.76" cy="318.27" r="3.35" fill="#3dbb92" stroke="#1a1a1a" stroke-width="1.2"/>
<circle cx="111.47" cy="318.27" r="3.35" fill="#3dbb92" stroke="#1a1a1a" stroke-width="1.2"/>
<circle cx="123.18" cy="318.27" r="3.35" fill="#3dbb92" stroke="#1a1a1a" stroke-width="1.2"/>
<circle cx="134.89" cy="318.27" r="3.35" fill="#3dbb92" stroke="#1a1a1a" stroke-width="1.2"/>
<circle cx="146.61" cy="318.27" r="3.35" fill="#3dbb92" stroke="#1a1a1a" stroke-width="1.2"/>
<circle cx="158.32" cy="318.27" r="3.35" fill="#3dbb92" stroke="#1a1a1a" stroke-width="1.2"/>
<circle cx="170.03" cy="318.27" r="3.35" fill="#3dbb92" stroke="#1a1a1a" stroke-width="1.2"/>
<circle cx="181.74" cy="318.27" r="3.35" fill="#3dbb92" stroke="#1a1a1a" stroke-width="1.2"/>
<circle cx="193.45" cy="318.27" r="3.35" fill="#3dbb92" stroke="#1a1a1a" stroke-width="1.2"/>
<circle cx="205.16" cy="318.27" r="3.35" fill="#3dbb92" stroke="#1a1a1a" stroke-width="1.2"/>
<circle cx="216.87" cy="318.27" r="3.35" fill="#3dbb92" stroke="#1a1a1a" stroke-width="1.2"/>
<circle cx="228.58" cy="318.27" r="3.35" fill="#3dbb92" stroke="#1a1a1a" stroke-width="1.2"/>
<circle cx="240.29" cy="318.27" r="3.35" fill="#3dbb92" stroke="#1a1a1a" stroke-width="1.2"/>
<circle cx="252" cy="318.27" r="3.35" fill="#3dbb92" stroke="#1a1a1a" stroke-width="1.2"/>
<path d="M29.5 249.56H252.0" stroke="#f2708a" stroke-width="1.15" stroke-opacity="1"/>
<polygon points="26.35,246.41 32.65,246.41 29.5,252.71" fill="#ee4a70" stroke="#1a1a1a" stroke-width="1.1" stroke-linejoin="miter"/>
<polygon points="38.06,246.41 44.36,246.41 41.21,252.71" fill="#ee4a70" stroke="#1a1a1a" stroke-width="1.1" stroke-linejoin="miter"/>
<polygon points="49.77,246.41 56.07,246.41 52.92,252.71" fill="#ee4a70" stroke="#1a1a1a" stroke-width="1.1" stroke-linejoin="miter"/>
<polygon points="61.48,246.41 67.78,246.41 64.63,252.71" fill="#ee4a70" stroke="#1a1a1a" stroke-width="1.1" stroke-linejoin="miter"/>
<polygon points="73.19,246.41 79.49,246.41 76.34,252.71" fill="#ee4a70" stroke="#1a1a1a" stroke-width="1.1" stroke-linejoin="miter"/>
<polygon points="84.9,246.41 91.2,246.41 88.05,252.71" fill="#ee4a70" stroke="#1a1a1a" stroke-width="1.1" stroke-linejoin="miter"/>
<polygon points="96.61,246.41 102.91,246.41 99.76,252.71" fill="#ee4a70" stroke="#1a1a1a" stroke-width="1.1" stroke-linejoin="miter"/>
<polygon points="108.32,246.41 114.62,246.41 111.47,252.71" fill="#ee4a70" stroke="#1a1a1a" stroke-width="1.1" stroke-linejoin="miter"/>
<polygon points="120.03,246.41 126.33,246.41 123.18,252.71" fill="#ee4a70" stroke="#1a1a1a" stroke-width="1.1" stroke-linejoin="miter"/>
<polygon points="131.74,246.41 138.04,246.41 134.89,252.71" fill="#ee4a70" stroke="#1a1a1a" stroke-width="1.1" stroke-linejoin="miter"/>
<polygon points="143.46,246.41 149.76,246.41 146.61,252.71" fill="#ee4a70" stroke="#1a1a1a" stroke-width="1.1" stroke-linejoin="miter"/>
<polygon points="155.17,246.41 161.47,246.41 158.32,252.71" fill="#ee4a70" stroke="#1a1a1a" stroke-width="1.1" stroke-linejoin="miter"/>
<polygon points="166.88,246.41 173.18,246.41 170.03,252.71" fill="#ee4a70" stroke="#1a1a1a" stroke-width="1.1" stroke-linejoin="miter"/>
<polygon points="178.59,246.41 184.89,246.41 181.74,252.71" fill="#ee4a70" stroke="#1a1a1a" stroke-width="1.1" stroke-linejoin="miter"/>
<polygon points="190.3,246.41 196.6,246.41 193.45,252.71" fill="#ee4a70" stroke="#1a1a1a" stroke-width="1.1" stroke-linejoin="miter"/>
<polygon points="202.01,246.41 208.31,246.41 205.16,252.71" fill="#ee4a70" stroke="#1a1a1a" stroke-width="1.1" stroke-linejoin="miter"/>
<polygon points="213.72,246.41 220.02,246.41 216.87,252.71" fill="#ee4a70" stroke="#1a1a1a" stroke-width="1.1" stroke-linejoin="miter"/>
<polygon points="225.43,246.41 231.73,246.41 228.58,252.71" fill="#ee4a70" stroke="#1a1a1a" stroke-width="1.1" stroke-linejoin="miter"/>
<polygon points="237.14,246.41 243.44,246.41 240.29,252.71" fill="#ee4a70" stroke="#1a1a1a" stroke-width="1.1" stroke-linejoin="miter"/>
<polygon points="248.85,246.41 255.15,246.41 252,252.71" fill="#ee4a70" stroke="#1a1a1a" stroke-width="1.1" stroke-linejoin="miter"/>
<path d="M29.5 313.75H252.0" stroke="#38d838" stroke-width="1.15" stroke-opacity="1"/>
<polygon points="29.5,310.8 30.16,312.84 32.31,312.84 30.57,314.1 31.23,316.14 29.5,314.88 27.77,316.14 28.43,314.1 26.69,312.84 28.84,312.84" fill="#2fc42f" stroke="#1a1a1a" stroke-width="1.0" stroke-linejoin="miter"/>
<polygon points="41.21,310.8 41.87,312.84 44.02,312.84 42.28,314.1 42.94,316.14 41.21,314.88 39.48,316.14 40.14,314.1 38.4,312.84 40.55,312.84" fill="#2fc42f" stroke="#1a1a1a" stroke-width="1.0" stroke-linejoin="miter"/>
<polygon points="52.92,310.8 53.58,312.84 55.73,312.84 53.99,314.1 54.66,316.14 52.92,314.88 51.19,316.14 51.85,314.1 50.12,312.84 52.26,312.84" fill="#2fc42f" stroke="#1a1a1a" stroke-width="1.0" stroke-linejoin="miter"/>
<polygon points="64.63,310.8 65.29,312.84 67.44,312.84 65.7,314.1 66.37,316.14 64.63,314.88 62.9,316.14 63.56,314.1 61.83,312.84 63.97,312.84" fill="#2fc42f" stroke="#1a1a1a" stroke-width="1.0" stroke-linejoin="miter"/>
<polygon points="76.34,310.8 77,312.84 79.15,312.84 77.41,314.1 78.08,316.14 76.34,314.88 74.61,316.14 75.27,314.1 73.54,312.84 75.68,312.84" fill="#2fc42f" stroke="#1a1a1a" stroke-width="1.0" stroke-linejoin="miter"/>
<polygon points="88.05,310.8 88.71,312.84 90.86,312.84 89.12,314.1 89.79,316.14 88.05,314.88 86.32,316.14 86.98,314.1 85.25,312.84 87.39,312.84" fill="#2fc42f" stroke="#1a1a1a" stroke-width="1.0" stroke-linejoin="miter"/>
<polygon points="99.76,310.8 100.43,312.84 102.57,312.84 100.83,314.1 101.5,316.14 99.76,314.88 98.03,316.14 98.69,314.1 96.96,312.84 99.1,312.84" fill="#2fc42f" stroke="#1a1a1a" stroke-width="1.0" stroke-linejoin="miter"/>
<polygon points="111.47,310.8 112.14,312.84 114.28,312.84 112.55,314.1 113.21,316.14 111.47,314.88 109.74,316.14 110.4,314.1 108.67,312.84 110.81,312.84" fill="#2fc42f" stroke="#1a1a1a" stroke-width="1.0" stroke-linejoin="miter"/>
<polygon points="123.18,310.8 123.85,312.84 125.99,312.84 124.26,314.1 124.92,316.14 123.18,314.88 121.45,316.14 122.11,314.1 120.38,312.84 122.52,312.84" fill="#2fc42f" stroke="#1a1a1a" stroke-width="1.0" stroke-linejoin="miter"/>
<polygon points="134.89,310.8 135.56,312.84 137.7,312.84 135.97,314.1 136.63,316.14 134.89,314.88 133.16,316.14 133.82,314.1 132.09,312.84 134.23,312.84" fill="#2fc42f" stroke="#1a1a1a" stroke-width="1.0" stroke-linejoin="miter"/>
<polygon points="146.61,310.8 147.27,312.84 149.41,312.84 147.68,314.1 148.34,316.14 146.61,314.88 144.87,316.14 145.53,314.1 143.8,312.84 145.94,312.84" fill="#2fc42f" stroke="#1a1a1a" stroke-width="1.0" stroke-linejoin="miter"/>
<polygon points="158.32,310.8 158.98,312.84 161.12,312.84 159.39,314.1 160.05,316.14 158.32,314.88 156.58,316.14 157.24,314.1 155.51,312.84 157.65,312.84" fill="#2fc42f" stroke="#1a1a1a" stroke-width="1.0" stroke-linejoin="miter"/>
<polygon points="170.03,310.8 170.69,312.84 172.83,312.84 171.1,314.1 171.76,316.14 170.03,314.88 168.29,316.14 168.95,314.1 167.22,312.84 169.36,312.84" fill="#2fc42f" stroke="#1a1a1a" stroke-width="1.0" stroke-linejoin="miter"/>
<polygon points="181.74,310.8 182.4,312.84 184.54,312.84 182.81,314.1 183.47,316.14 181.74,314.88 180,316.14 180.67,314.1 178.93,312.84 181.07,312.84" fill="#2fc42f" stroke="#1a1a1a" stroke-width="1.0" stroke-linejoin="miter"/>
<polygon points="193.45,310.8 194.11,312.84 196.25,312.84 194.52,314.1 195.18,316.14 193.45,314.88 191.71,316.14 192.38,314.1 190.64,312.84 192.79,312.84" fill="#2fc42f" stroke="#1a1a1a" stroke-width="1.0" stroke-linejoin="miter"/>
<polygon points="205.16,310.8 205.82,312.84 207.96,312.84 206.23,314.1 206.89,316.14 205.16,314.88 203.42,316.14 204.09,314.1 202.35,312.84 204.5,312.84" fill="#2fc42f" stroke="#1a1a1a" stroke-width="1.0" stroke-linejoin="miter"/>
<polygon points="216.87,310.8 217.53,312.84 219.67,312.84 217.94,314.1 218.6,316.14 216.87,314.88 215.13,316.14 215.8,314.1 214.06,312.84 216.21,312.84" fill="#2fc42f" stroke="#1a1a1a" stroke-width="1.0" stroke-linejoin="miter"/>
<polygon points="228.58,310.8 229.24,312.84 231.38,312.84 229.65,314.1 230.31,316.14 228.58,314.88 226.84,316.14 227.51,314.1 225.77,312.84 227.92,312.84" fill="#2fc42f" stroke="#1a1a1a" stroke-width="1.0" stroke-linejoin="miter"/>
<polygon points="240.29,310.8 240.95,312.84 243.1,312.84 241.36,314.1 242.02,316.14 240.29,314.88 238.56,316.14 239.22,314.1 237.48,312.84 239.63,312.84" fill="#2fc42f" stroke="#1a1a1a" stroke-width="1.0" stroke-linejoin="miter"/>
<polygon points="252,310.8 252.66,312.84 254.81,312.84 253.07,314.1 253.73,316.14 252,314.88 250.27,316.14 250.93,314.1 249.19,312.84 251.34,312.84" fill="#2fc42f" stroke="#1a1a1a" stroke-width="1.0" stroke-linejoin="miter"/>
<path d="M29.5 318.27H252.0" stroke="#e0ee78" stroke-width="1.15" stroke-opacity="0.7"/>
<polygon points="26.4,321.37 32.6,321.37 29.5,315.17" fill="#e6ee5a" stroke="#1a1a1a" stroke-width="1.1" stroke-linejoin="miter"/>
<polygon points="38.11,321.37 44.31,321.37 41.21,315.17" fill="#e6ee5a" stroke="#1a1a1a" stroke-width="1.1" stroke-linejoin="miter"/>
<polygon points="49.82,321.37 56.02,321.37 52.92,315.17" fill="#e6ee5a" stroke="#1a1a1a" stroke-width="1.1" stroke-linejoin="miter"/>
<polygon points="61.53,321.37 67.73,321.37 64.63,315.17" fill="#e6ee5a" stroke="#1a1a1a" stroke-width="1.1" stroke-linejoin="miter"/>
<polygon points="73.24,321.37 79.44,321.37 76.34,315.17" fill="#e6ee5a" stroke="#1a1a1a" stroke-width="1.1" stroke-linejoin="miter"/>
<polygon points="84.95,321.37 91.15,321.37 88.05,315.17" fill="#e6ee5a" stroke="#1a1a1a" stroke-width="1.1" stroke-linejoin="miter"/>
<polygon points="96.66,321.37 102.86,321.37 99.76,315.17" fill="#e6ee5a" stroke="#1a1a1a" stroke-width="1.1" stroke-linejoin="miter"/>
<polygon points="108.37,321.37 114.57,321.37 111.47,315.17" fill="#e6ee5a" stroke="#1a1a1a" stroke-width="1.1" stroke-linejoin="miter"/>
<polygon points="120.08,321.37 126.28,321.37 123.18,315.17" fill="#e6ee5a" stroke="#1a1a1a" stroke-width="1.1" stroke-linejoin="miter"/>
<polygon points="131.79,321.37 137.99,321.37 134.89,315.17" fill="#e6ee5a" stroke="#1a1a1a" stroke-width="1.1" stroke-linejoin="miter"/>
<polygon points="143.51,321.37 149.71,321.37 146.61,315.17" fill="#e6ee5a" stroke="#1a1a1a" stroke-width="1.1" stroke-linejoin="miter"/>
<polygon points="155.22,321.37 161.42,321.37 158.32,315.17" fill="#e6ee5a" stroke="#1a1a1a" stroke-width="1.1" stroke-linejoin="miter"/>
<polygon points="166.93,321.37 173.13,321.37 170.03,315.17" fill="#e6ee5a" stroke="#1a1a1a" stroke-width="1.1" stroke-linejoin="miter"/>
<polygon points="178.64,321.37 184.84,321.37 181.74,315.17" fill="#e6ee5a" stroke="#1a1a1a" stroke-width="1.1" stroke-linejoin="miter"/>
<polygon points="190.35,321.37 196.55,321.37 193.45,315.17" fill="#e6ee5a" stroke="#1a1a1a" stroke-width="1.1" stroke-linejoin="miter"/>
<polygon points="202.06,321.37 208.26,321.37 205.16,315.17" fill="#e6ee5a" stroke="#1a1a1a" stroke-width="1.1" stroke-linejoin="miter"/>
<polygon points="213.77,321.37 219.97,321.37 216.87,315.17" fill="#e6ee5a" stroke="#1a1a1a" stroke-width="1.1" stroke-linejoin="miter"/>
<polygon points="225.48,321.37 231.68,321.37 228.58,315.17" fill="#e6ee5a" stroke="#1a1a1a" stroke-width="1.1" stroke-linejoin="miter"/>
<polygon points="237.19,321.37 243.39,321.37 240.29,315.17" fill="#e6ee5a" stroke="#1a1a1a" stroke-width="1.1" stroke-linejoin="miter"/>
<polygon points="248.9,321.37 255.1,321.37 252,315.17" fill="#e6ee5a" stroke="#1a1a1a" stroke-width="1.1" stroke-linejoin="miter"/>
</g>
<rect x="33.6" y="260.1" width="123.1" height="43.4" fill="#fff" stroke="#000" stroke-width="0.8"/>
<text x="95.1" y="270.8" font-size="7.95" text-anchor="middle" fill="#000">found clusters</text>
<path d="M41.0 280.9H54.3" stroke="#45c9a0" stroke-width="1"/>
<circle cx="41" cy="280.9" r="3.35" fill="#3dbb92" stroke="#1a1a1a" stroke-width="1.2"/>
<circle cx="54.3" cy="280.9" r="3.35" fill="#3dbb92" stroke="#1a1a1a" stroke-width="1.2"/>
<text x="64.9" y="284.1" font-size="9.3" text-anchor="start" fill="#000">one</text>
<path d="M41.0 294.1H54.3" stroke="#f2708a" stroke-width="1"/>
<polygon points="37.85,290.95 44.15,290.95 41,297.25" fill="#ee4a70" stroke="#1a1a1a" stroke-width="1.1" stroke-linejoin="miter"/>
<polygon points="51.15,290.95 57.45,290.95 54.3,297.25" fill="#ee4a70" stroke="#1a1a1a" stroke-width="1.1" stroke-linejoin="miter"/>
<text x="64.9" y="297.3" font-size="9.3" text-anchor="start" fill="#000">two</text>
<path d="M103.4 280.9H116.4" stroke="#38d838" stroke-width="1"/>
<polygon points="103.4,277.95 104.06,279.99 106.21,279.99 104.47,281.25 105.13,283.29 103.4,282.03 101.67,283.29 102.33,281.25 100.59,279.99 102.74,279.99" fill="#2fc42f" stroke="#1a1a1a" stroke-width="1.0" stroke-linejoin="miter"/>
<polygon points="116.4,277.95 117.06,279.99 119.21,279.99 117.47,281.25 118.13,283.29 116.4,282.03 114.67,283.29 115.33,281.25 113.59,279.99 115.74,279.99" fill="#2fc42f" stroke="#1a1a1a" stroke-width="1.0" stroke-linejoin="miter"/>
<text x="126.9" y="284.1" font-size="9.3" text-anchor="start" fill="#000">three</text>
<path d="M103.4 294.1H116.4" stroke="#e0ee78" stroke-width="1"/>
<polygon points="100.3,297.2 106.5,297.2 103.4,291" fill="#e6ee5a" stroke="#1a1a1a" stroke-width="1.1" stroke-linejoin="miter"/>
<polygon points="113.3,297.2 119.5,297.2 116.4,291" fill="#e6ee5a" stroke="#1a1a1a" stroke-width="1.1" stroke-linejoin="miter"/>
<text x="126.9" y="297.3" font-size="9.3" text-anchor="start" fill="#000">four</text>
<rect x="29.5" y="237.7" width="222.5" height="87.9" fill="none" stroke="#000" stroke-width="0.85"/>
<text x="27.1" y="320.58" font-size="7.95" text-anchor="end" fill="#000">0.0</text>
<text x="27.1" y="305.93" font-size="7.95" text-anchor="end" fill="#000">0.2</text>
<text x="27.1" y="291.28" font-size="7.95" text-anchor="end" fill="#000">0.4</text>
<text x="27.1" y="276.62" font-size="7.95" text-anchor="end" fill="#000">0.6</text>
<text x="27.1" y="261.98" font-size="7.95" text-anchor="end" fill="#000">0.8</text>
<text x="27.1" y="247.32" font-size="7.95" text-anchor="end" fill="#000">1.0</text>
<path d="M29.5 318.28h2M252.0 318.28h-2M29.5 303.62h2M252.0 303.62h-2M29.5 288.98h2M252.0 288.98h-2M29.5 274.32h2M252.0 274.32h-2M29.5 259.68h2M252.0 259.68h-2M29.5 245.02h2M252.0 245.02h-2M72.6 237.7v2M72.6 325.6v-2M117.5 237.7v2M117.5 325.6v-2M162.4 237.7v2M162.4 325.6v-2M207.3 237.7v2M207.3 325.6v-2" stroke="#000" stroke-width="0.6"/>
<text x="141.25" y="234.9" font-size="9.5" text-anchor="middle" fill="#000">threshold = 3.0</text>
<text x="10.2" y="281.65" font-size="7.95" text-anchor="middle" fill="#000" transform="rotate(-90 10.2 281.65)">prob. of cluster counts</text>
<text x="72.6" y="334.1" font-size="7.95" text-anchor="middle" fill="#000">2000</text>
<text x="117.5" y="334.1" font-size="7.95" text-anchor="middle" fill="#000">4000</text>
<text x="162.4" y="334.1" font-size="7.95" text-anchor="middle" fill="#000">6000</text>
<text x="207.3" y="334.1" font-size="7.95" text-anchor="middle" fill="#000">8000</text>
<text x="252.2" y="334.1" font-size="7.95" text-anchor="middle" fill="#000">10000</text>
<text x="140.75" y="345" font-size="7.95" text-anchor="middle" fill="#000">total number of data points</text>
<rect x="329.78" y="243.14" width="29.8" height="82.46" fill="#ef5077"/>
<rect x="367.03" y="320.17" width="29.8" height="5.43" fill="#2db82d"/>
<path d="M288.8 303.62H437.8" stroke="#000" stroke-width="0.7" stroke-dasharray="0.9 1.65"/>
<path d="M288.8 281.65H437.8" stroke="#000" stroke-width="0.7" stroke-dasharray="0.9 1.65"/>
<path d="M288.8 259.68H437.8" stroke="#000" stroke-width="0.7" stroke-dasharray="0.9 1.65"/>
<path d="M307.43 237.7V325.6" stroke="#000" stroke-width="0.7" stroke-dasharray="0.9 1.65"/>
<path d="M344.68 237.7V325.6" stroke="#000" stroke-width="0.7" stroke-dasharray="0.9 1.65"/>
<path d="M381.93 237.7V325.6" stroke="#000" stroke-width="0.7" stroke-dasharray="0.9 1.65"/>
<path d="M419.18 237.7V325.6" stroke="#000" stroke-width="0.7" stroke-dasharray="0.9 1.65"/>
<rect x="288.8" y="237.7" width="149" height="87.9" fill="none" stroke="#000" stroke-width="0.85"/>
<path d="M288.8 237.7H437.8" stroke="#000" stroke-width="0.5" stroke-dasharray="0.7 1.7"/>
<text x="307.43" y="324.59" font-size="7.95" text-anchor="middle" fill="#000">16</text>
<text x="344.68" y="250.14" font-size="7.95" text-anchor="middle" fill="#000">187630</text>
<text x="381.93" y="319.17" font-size="7.95" text-anchor="middle" fill="#000">12348</text>
<text x="419.18" y="324.6" font-size="7.95" text-anchor="middle" fill="#000">6</text>
<text x="286.5" y="328.4" font-size="7.95" text-anchor="end" fill="#000">0</text>
<text x="286.5" y="306.43" font-size="7.95" text-anchor="end" fill="#000">50000</text>
<text x="286.5" y="284.45" font-size="7.95" text-anchor="end" fill="#000">100000</text>
<text x="286.5" y="262.48" font-size="7.95" text-anchor="end" fill="#000">150000</text>
<text x="286.5" y="240.5" font-size="7.95" text-anchor="end" fill="#000">200000</text>
<path d="M288.8 325.6h2M437.8 325.6h-2M288.8 303.62h2M437.8 303.62h-2M288.8 281.65h2M437.8 281.65h-2M288.8 259.68h2M437.8 259.68h-2M288.8 237.7h2M437.8 237.7h-2M307.43 237.7v2M307.43 325.6v-2M344.68 237.7v2M344.68 325.6v-2M381.93 237.7v2M381.93 325.6v-2M419.18 237.7v2M419.18 325.6v-2" stroke="#000" stroke-width="0.6"/>
<text x="363.8" y="234.9" font-size="9.5" text-anchor="middle" fill="#000">error = 6.2%</text>
<text x="307.43" y="334.1" font-size="7.95" text-anchor="middle" fill="#000">1</text>
<text x="344.68" y="334.1" font-size="7.95" text-anchor="middle" fill="#000">2</text>
<text x="381.93" y="334.1" font-size="7.95" text-anchor="middle" fill="#000">3</text>
<text x="419.18" y="334.1" font-size="7.95" text-anchor="middle" fill="#000">4</text>
<text x="363.3" y="345" font-size="7.95" text-anchor="middle" fill="#000">birch result cluster count</text>
<clipPath id="clb"><rect x="52.5" y="377.7" width="383" height="184.7"/></clipPath>
<g clip-path="url(#clb)">
<path d="M52.5 555.01H435.5" stroke="#f04a5a" stroke-width="1"/>
<path d="M52.5 555.01H435.5" stroke="#000" stroke-width="0.85" stroke-dasharray="1 2.3"/>
<path d="M52.5 525.46H435.5" stroke="#000" stroke-width="0.85" stroke-dasharray="1 2.3"/>
<path d="M52.5 488.52H435.5" stroke="#000" stroke-width="0.85" stroke-dasharray="1 2.3"/>
<path d="M52.5 451.58H435.5" stroke="#000" stroke-width="0.85" stroke-dasharray="1 2.3"/>
<path d="M52.5 414.64H435.5" stroke="#000" stroke-width="0.85" stroke-dasharray="1 2.3"/>
<path d="M81.96 377.7V562.4" stroke="#000" stroke-width="0.85" stroke-dasharray="1 2.3"/>
<path d="M155.62 377.7V562.4" stroke="#000" stroke-width="0.85" stroke-dasharray="1 2.3"/>
<path d="M229.27 377.7V562.4" stroke="#000" stroke-width="0.85" stroke-dasharray="1 2.3"/>
<path d="M302.92 377.7V562.4" stroke="#000" stroke-width="0.85" stroke-dasharray="1 2.3"/>
<path d="M376.58 377.7V562.4" stroke="#000" stroke-width="0.85" stroke-dasharray="1 2.3"/>
<path d="M52.5 419.81L67.23 494.65L81.96 526.94L96.69 538.02L111.42 543.27L126.15 542.53L140.88 539.79L155.62 539.57L170.35 537.06L185.08 531.37L199.81 531.37L214.54 522.14L229.27 509.35L244 494.65L258.73 427.57L273.46 222.55" fill="none" stroke="#2a2af5" stroke-width="1.2" stroke-linejoin="round"/>
<circle cx="52.5" cy="419.81" r="2.6" fill="#1c1ce8" stroke="#1a1a1a" stroke-width="0.8"/>
<circle cx="67.23" cy="494.65" r="2.6" fill="#1c1ce8" stroke="#1a1a1a" stroke-width="0.8"/>
<circle cx="81.96" cy="526.94" r="2.6" fill="#1c1ce8" stroke="#1a1a1a" stroke-width="0.8"/>
<circle cx="96.69" cy="538.02" r="2.6" fill="#1c1ce8" stroke="#1a1a1a" stroke-width="0.8"/>
<circle cx="111.42" cy="543.27" r="2.6" fill="#1c1ce8" stroke="#1a1a1a" stroke-width="0.8"/>
<circle cx="126.15" cy="542.53" r="2.6" fill="#1c1ce8" stroke="#1a1a1a" stroke-width="0.8"/>
<circle cx="140.88" cy="539.79" r="2.6" fill="#1c1ce8" stroke="#1a1a1a" stroke-width="0.8"/>
<circle cx="155.62" cy="539.57" r="2.6" fill="#1c1ce8" stroke="#1a1a1a" stroke-width="0.8"/>
<circle cx="170.35" cy="537.06" r="2.6" fill="#1c1ce8" stroke="#1a1a1a" stroke-width="0.8"/>
<circle cx="185.08" cy="531.37" r="2.6" fill="#1c1ce8" stroke="#1a1a1a" stroke-width="0.8"/>
<circle cx="199.81" cy="531.37" r="2.6" fill="#1c1ce8" stroke="#1a1a1a" stroke-width="0.8"/>
<circle cx="214.54" cy="522.14" r="2.6" fill="#1c1ce8" stroke="#1a1a1a" stroke-width="0.8"/>
<circle cx="229.27" cy="509.35" r="2.6" fill="#1c1ce8" stroke="#1a1a1a" stroke-width="0.8"/>
<circle cx="244" cy="494.65" r="2.6" fill="#1c1ce8" stroke="#1a1a1a" stroke-width="0.8"/>
<circle cx="258.73" cy="427.57" r="2.6" fill="#1c1ce8" stroke="#1a1a1a" stroke-width="0.8"/>
<circle cx="273.46" cy="222.55" r="2.6" fill="#1c1ce8" stroke="#1a1a1a" stroke-width="0.8"/>
<path d="M52.5 423.51L67.23 496.65L81.96 528.42L96.69 545.56L111.42 550.8L126.15 553.02L140.88 552.5L155.62 548.07L170.35 546.07L185.08 546.07L199.81 541.34L214.54 540.09L229.27 535.06L244 530.11L258.73 520.14L273.46 507.65L288.19 462.96L302.92 292" fill="none" stroke="#3f99f7" stroke-width="1.2" stroke-linejoin="round"/>
<polygon points="49.9,420.91 55.1,420.91 52.5,426.11" fill="#3590ee" stroke="#1a1a1a" stroke-width="0.8" stroke-linejoin="miter"/>
<polygon points="64.63,494.05 69.83,494.05 67.23,499.25" fill="#3590ee" stroke="#1a1a1a" stroke-width="0.8" stroke-linejoin="miter"/>
<polygon points="79.36,525.82 84.56,525.82 81.96,531.02" fill="#3590ee" stroke="#1a1a1a" stroke-width="0.8" stroke-linejoin="miter"/>
<polygon points="94.09,542.96 99.29,542.96 96.69,548.16" fill="#3590ee" stroke="#1a1a1a" stroke-width="0.8" stroke-linejoin="miter"/>
<polygon points="108.82,548.2 114.02,548.2 111.42,553.4" fill="#3590ee" stroke="#1a1a1a" stroke-width="0.8" stroke-linejoin="miter"/>
<polygon points="123.55,550.42 128.75,550.42 126.15,555.62" fill="#3590ee" stroke="#1a1a1a" stroke-width="0.8" stroke-linejoin="miter"/>
<polygon points="138.28,549.9 143.48,549.9 140.88,555.1" fill="#3590ee" stroke="#1a1a1a" stroke-width="0.8" stroke-linejoin="miter"/>
<polygon points="153.02,545.47 158.22,545.47 155.62,550.67" fill="#3590ee" stroke="#1a1a1a" stroke-width="0.8" stroke-linejoin="miter"/>
<polygon points="167.75,543.47 172.95,543.47 170.35,548.67" fill="#3590ee" stroke="#1a1a1a" stroke-width="0.8" stroke-linejoin="miter"/>
<polygon points="182.48,543.47 187.68,543.47 185.08,548.67" fill="#3590ee" stroke="#1a1a1a" stroke-width="0.8" stroke-linejoin="miter"/>
<polygon points="197.21,538.74 202.41,538.74 199.81,543.94" fill="#3590ee" stroke="#1a1a1a" stroke-width="0.8" stroke-linejoin="miter"/>
<polygon points="211.94,537.49 217.14,537.49 214.54,542.69" fill="#3590ee" stroke="#1a1a1a" stroke-width="0.8" stroke-linejoin="miter"/>
<polygon points="226.67,532.46 231.87,532.46 229.27,537.66" fill="#3590ee" stroke="#1a1a1a" stroke-width="0.8" stroke-linejoin="miter"/>
<polygon points="241.4,527.51 246.6,527.51 244,532.71" fill="#3590ee" stroke="#1a1a1a" stroke-width="0.8" stroke-linejoin="miter"/>
<polygon points="256.13,517.54 261.33,517.54 258.73,522.74" fill="#3590ee" stroke="#1a1a1a" stroke-width="0.8" stroke-linejoin="miter"/>
<polygon points="270.86,505.05 276.06,505.05 273.46,510.25" fill="#3590ee" stroke="#1a1a1a" stroke-width="0.8" stroke-linejoin="miter"/>
<polygon points="285.59,460.36 290.79,460.36 288.19,465.56" fill="#3590ee" stroke="#1a1a1a" stroke-width="0.8" stroke-linejoin="miter"/>
<polygon points="300.32,289.4 305.52,289.4 302.92,294.6" fill="#3590ee" stroke="#1a1a1a" stroke-width="0.8" stroke-linejoin="miter"/>
<path d="M52.5 424.98L67.23 498.86L81.96 529.15L96.69 547.62L111.42 553.9L126.15 557.6L140.88 557.97L155.62 557.01L170.35 554.27L185.08 552.57L199.81 550.8L214.54 547.03L229.27 545.56L244 541.34L258.73 539.57L273.46 537.06L288.19 527.09L302.92 517.63L317.65 491.92L332.38 359.97" fill="none" stroke="#74f0a4" stroke-width="1.2" stroke-linejoin="round"/>
<polygon points="52.5,422.38 53.08,424.18 54.97,424.18 53.44,425.29 54.03,427.09 52.5,425.98 50.97,427.09 51.56,425.29 50.03,424.18 51.92,424.18" fill="#7af0a8" stroke="#1a1a1a" stroke-width="0.8" stroke-linejoin="miter"/>
<polygon points="67.23,496.26 67.81,498.06 69.7,498.06 68.18,499.17 68.76,500.97 67.23,499.86 65.7,500.97 66.29,499.17 64.76,498.06 66.65,498.06" fill="#7af0a8" stroke="#1a1a1a" stroke-width="0.8" stroke-linejoin="miter"/>
<polygon points="81.96,526.55 82.55,528.35 84.43,528.35 82.91,529.46 83.49,531.26 81.96,530.15 80.43,531.26 81.02,529.46 79.49,528.35 81.38,528.35" fill="#7af0a8" stroke="#1a1a1a" stroke-width="0.8" stroke-linejoin="miter"/>
<polygon points="96.69,545.02 97.28,546.82 99.17,546.82 97.64,547.93 98.22,549.73 96.69,548.62 95.16,549.73 95.75,547.93 94.22,546.82 96.11,546.82" fill="#7af0a8" stroke="#1a1a1a" stroke-width="0.8" stroke-linejoin="miter"/>
<polygon points="111.42,551.3 112.01,553.1 113.9,553.1 112.37,554.21 112.95,556.01 111.42,554.9 109.89,556.01 110.48,554.21 108.95,553.1 110.84,553.1" fill="#7af0a8" stroke="#1a1a1a" stroke-width="0.8" stroke-linejoin="miter"/>
<polygon points="126.15,555 126.74,556.79 128.63,556.79 127.1,557.9 127.68,559.7 126.15,558.59 124.63,559.7 125.21,557.9 123.68,556.79 125.57,556.79" fill="#7af0a8" stroke="#1a1a1a" stroke-width="0.8" stroke-linejoin="miter"/>
<polygon points="140.88,555.37 141.47,557.16 143.36,557.16 141.83,558.27 142.41,560.07 140.88,558.96 139.36,560.07 139.94,558.27 138.41,557.16 140.3,557.16" fill="#7af0a8" stroke="#1a1a1a" stroke-width="0.8" stroke-linejoin="miter"/>
<polygon points="155.62,554.41 156.2,556.2 158.09,556.2 156.56,557.31 157.14,559.11 155.62,558 154.09,559.11 154.67,557.31 153.14,556.2 155.03,556.2" fill="#7af0a8" stroke="#1a1a1a" stroke-width="0.8" stroke-linejoin="miter"/>
<polygon points="170.35,551.67 170.93,553.47 172.82,553.47 171.29,554.58 171.87,556.38 170.35,555.27 168.82,556.38 169.4,554.58 167.87,553.47 169.76,553.47" fill="#7af0a8" stroke="#1a1a1a" stroke-width="0.8" stroke-linejoin="miter"/>
<polygon points="185.08,549.97 185.66,551.77 187.55,551.77 186.02,552.88 186.61,554.68 185.08,553.57 183.55,554.68 184.13,552.88 182.6,551.77 184.49,551.77" fill="#7af0a8" stroke="#1a1a1a" stroke-width="0.8" stroke-linejoin="miter"/>
<polygon points="199.81,548.2 200.39,550 202.28,550 200.75,551.11 201.34,552.9 199.81,551.79 198.28,552.9 198.86,551.11 197.33,550 199.22,550" fill="#7af0a8" stroke="#1a1a1a" stroke-width="0.8" stroke-linejoin="miter"/>
<polygon points="214.54,544.43 215.12,546.23 217.01,546.23 215.48,547.34 216.07,549.14 214.54,548.03 213.01,549.14 213.59,547.34 212.07,546.23 213.95,546.23" fill="#7af0a8" stroke="#1a1a1a" stroke-width="0.8" stroke-linejoin="miter"/>
<polygon points="229.27,542.96 229.85,544.75 231.74,544.75 230.21,545.86 230.8,547.66 229.27,546.55 227.74,547.66 228.32,545.86 226.8,544.75 228.69,544.75" fill="#7af0a8" stroke="#1a1a1a" stroke-width="0.8" stroke-linejoin="miter"/>
<polygon points="244,538.74 244.58,540.54 246.47,540.54 244.94,541.65 245.53,543.45 244,542.34 242.47,543.45 243.06,541.65 241.53,540.54 243.42,540.54" fill="#7af0a8" stroke="#1a1a1a" stroke-width="0.8" stroke-linejoin="miter"/>
<polygon points="258.73,536.97 259.31,538.77 261.2,538.77 259.68,539.88 260.26,541.67 258.73,540.56 257.2,541.67 257.79,539.88 256.26,538.77 258.15,538.77" fill="#7af0a8" stroke="#1a1a1a" stroke-width="0.8" stroke-linejoin="miter"/>
<polygon points="273.46,534.46 274.05,536.26 275.93,536.26 274.41,537.37 274.99,539.16 273.46,538.05 271.93,539.16 272.52,537.37 270.99,536.26 272.88,536.26" fill="#7af0a8" stroke="#1a1a1a" stroke-width="0.8" stroke-linejoin="miter"/>
<polygon points="288.19,524.49 288.78,526.28 290.67,526.28 289.14,527.39 289.72,529.19 288.19,528.08 286.66,529.19 287.25,527.39 285.72,526.28 287.61,526.28" fill="#7af0a8" stroke="#1a1a1a" stroke-width="0.8" stroke-linejoin="miter"/>
<polygon points="302.92,515.03 303.51,516.83 305.4,516.83 303.87,517.94 304.45,519.73 302.92,518.62 301.39,519.73 301.98,517.94 300.45,516.83 302.34,516.83" fill="#7af0a8" stroke="#1a1a1a" stroke-width="0.8" stroke-linejoin="miter"/>
<polygon points="317.65,489.32 318.24,491.12 320.13,491.12 318.6,492.23 319.18,494.02 317.65,492.91 316.13,494.02 316.71,492.23 315.18,491.12 317.07,491.12" fill="#7af0a8" stroke="#1a1a1a" stroke-width="0.8" stroke-linejoin="miter"/>
<polygon points="332.38,357.37 332.97,359.17 334.86,359.17 333.33,360.28 333.91,362.07 332.38,360.96 330.86,362.07 331.44,360.28 329.91,359.17 331.8,359.17" fill="#7af0a8" stroke="#1a1a1a" stroke-width="0.8" stroke-linejoin="miter"/>
<path d="M52.5 425.72L67.23 500.34L81.96 529.89L96.69 548.36L111.42 554.64L126.15 558.71L140.88 559.81L155.62 559.44L170.35 558.71L185.08 557.97L199.81 557.01L214.54 555.53L229.27 554.49L244 552.57L258.73 549.54L273.46 547.03L288.19 547.55L302.92 542.53L317.65 536.54L332.38 523.1L347.12 505.88L361.85 440.57L376.58 225.51" fill="none" stroke="#7bf268" stroke-width="1.2" stroke-linejoin="round"/>
<polygon points="50,428.22 55,428.22 52.5,423.22" fill="#8cf070" stroke="#1a1a1a" stroke-width="0.8" stroke-linejoin="miter"/>
<polygon points="64.73,502.84 69.73,502.84 67.23,497.84" fill="#8cf070" stroke="#1a1a1a" stroke-width="0.8" stroke-linejoin="miter"/>
<polygon points="79.46,532.39 84.46,532.39 81.96,527.39" fill="#8cf070" stroke="#1a1a1a" stroke-width="0.8" stroke-linejoin="miter"/>
<polygon points="94.19,550.86 99.19,550.86 96.69,545.86" fill="#8cf070" stroke="#1a1a1a" stroke-width="0.8" stroke-linejoin="miter"/>
<polygon points="108.92,557.14 113.92,557.14 111.42,552.14" fill="#8cf070" stroke="#1a1a1a" stroke-width="0.8" stroke-linejoin="miter"/>
<polygon points="123.65,561.21 128.65,561.21 126.15,556.21" fill="#8cf070" stroke="#1a1a1a" stroke-width="0.8" stroke-linejoin="miter"/>
<polygon points="138.38,562.31 143.38,562.31 140.88,557.31" fill="#8cf070" stroke="#1a1a1a" stroke-width="0.8" stroke-linejoin="miter"/>
<polygon points="153.12,561.94 158.12,561.94 155.62,556.94" fill="#8cf070" stroke="#1a1a1a" stroke-width="0.8" stroke-linejoin="miter"/>
<polygon points="167.85,561.21 172.85,561.21 170.35,556.21" fill="#8cf070" stroke="#1a1a1a" stroke-width="0.8" stroke-linejoin="miter"/>
<polygon points="182.58,560.47 187.58,560.47 185.08,555.47" fill="#8cf070" stroke="#1a1a1a" stroke-width="0.8" stroke-linejoin="miter"/>
<polygon points="197.31,559.51 202.31,559.51 199.81,554.51" fill="#8cf070" stroke="#1a1a1a" stroke-width="0.8" stroke-linejoin="miter"/>
<polygon points="212.04,558.03 217.04,558.03 214.54,553.03" fill="#8cf070" stroke="#1a1a1a" stroke-width="0.8" stroke-linejoin="miter"/>
<polygon points="226.77,556.99 231.77,556.99 229.27,551.99" fill="#8cf070" stroke="#1a1a1a" stroke-width="0.8" stroke-linejoin="miter"/>
<polygon points="241.5,555.07 246.5,555.07 244,550.07" fill="#8cf070" stroke="#1a1a1a" stroke-width="0.8" stroke-linejoin="miter"/>
<polygon points="256.23,552.04 261.23,552.04 258.73,547.04" fill="#8cf070" stroke="#1a1a1a" stroke-width="0.8" stroke-linejoin="miter"/>
<polygon points="270.96,549.53 275.96,549.53 273.46,544.53" fill="#8cf070" stroke="#1a1a1a" stroke-width="0.8" stroke-linejoin="miter"/>
<polygon points="285.69,550.05 290.69,550.05 288.19,545.05" fill="#8cf070" stroke="#1a1a1a" stroke-width="0.8" stroke-linejoin="miter"/>
<polygon points="300.42,545.03 305.42,545.03 302.92,540.03" fill="#8cf070" stroke="#1a1a1a" stroke-width="0.8" stroke-linejoin="miter"/>
<polygon points="315.15,539.04 320.15,539.04 317.65,534.04" fill="#8cf070" stroke="#1a1a1a" stroke-width="0.8" stroke-linejoin="miter"/>
<polygon points="329.88,525.6 334.88,525.6 332.38,520.6" fill="#8cf070" stroke="#1a1a1a" stroke-width="0.8" stroke-linejoin="miter"/>
<polygon points="344.62,508.38 349.62,508.38 347.12,503.38" fill="#8cf070" stroke="#1a1a1a" stroke-width="0.8" stroke-linejoin="miter"/>
<polygon points="359.35,443.07 364.35,443.07 361.85,438.07" fill="#8cf070" stroke="#1a1a1a" stroke-width="0.8" stroke-linejoin="miter"/>
<polygon points="374.08,228.01 379.08,228.01 376.58,223.01" fill="#8cf070" stroke="#1a1a1a" stroke-width="0.8" stroke-linejoin="miter"/>
<path d="M52.5 426.46L67.23 498.12L81.96 530.11L96.69 548.81L111.42 555.01L126.15 559.3L140.88 560.48L155.62 560.92L170.35 560.77L185.08 560.48L199.81 560.18L214.54 559.44L229.27 558.71L244 557.52L258.73 556.27L273.46 555.01L288.19 553.02L302.92 552.06L317.65 549.54L332.38 546.29L347.12 539.57L361.85 535.06L376.58 515.63L391.31 485.49L406.04 311.21" fill="none" stroke="#f5773f" stroke-width="1.2" stroke-linejoin="round"/>
<polygon points="49.9,423.86 55.1,423.86 55.1,429.06 49.9,429.06" fill="#f0703a" stroke="#1a1a1a" stroke-width="0.8" stroke-linejoin="miter"/>
<polygon points="64.63,495.52 69.83,495.52 69.83,500.72 64.63,500.72" fill="#f0703a" stroke="#1a1a1a" stroke-width="0.8" stroke-linejoin="miter"/>
<polygon points="79.36,527.51 84.56,527.51 84.56,532.71 79.36,532.71" fill="#f0703a" stroke="#1a1a1a" stroke-width="0.8" stroke-linejoin="miter"/>
<polygon points="94.09,546.21 99.29,546.21 99.29,551.41 94.09,551.41" fill="#f0703a" stroke="#1a1a1a" stroke-width="0.8" stroke-linejoin="miter"/>
<polygon points="108.82,552.41 114.02,552.41 114.02,557.61 108.82,557.61" fill="#f0703a" stroke="#1a1a1a" stroke-width="0.8" stroke-linejoin="miter"/>
<polygon points="123.55,556.7 128.75,556.7 128.75,561.9 123.55,561.9" fill="#f0703a" stroke="#1a1a1a" stroke-width="0.8" stroke-linejoin="miter"/>
<polygon points="138.28,557.88 143.48,557.88 143.48,563.08 138.28,563.08" fill="#f0703a" stroke="#1a1a1a" stroke-width="0.8" stroke-linejoin="miter"/>
<polygon points="153.02,558.32 158.22,558.32 158.22,563.52 153.02,563.52" fill="#f0703a" stroke="#1a1a1a" stroke-width="0.8" stroke-linejoin="miter"/>
<polygon points="167.75,558.17 172.95,558.17 172.95,563.37 167.75,563.37" fill="#f0703a" stroke="#1a1a1a" stroke-width="0.8" stroke-linejoin="miter"/>
<polygon points="182.48,557.88 187.68,557.88 187.68,563.08 182.48,563.08" fill="#f0703a" stroke="#1a1a1a" stroke-width="0.8" stroke-linejoin="miter"/>
<polygon points="197.21,557.58 202.41,557.58 202.41,562.78 197.21,562.78" fill="#f0703a" stroke="#1a1a1a" stroke-width="0.8" stroke-linejoin="miter"/>
<polygon points="211.94,556.84 217.14,556.84 217.14,562.04 211.94,562.04" fill="#f0703a" stroke="#1a1a1a" stroke-width="0.8" stroke-linejoin="miter"/>
<polygon points="226.67,556.11 231.87,556.11 231.87,561.31 226.67,561.31" fill="#f0703a" stroke="#1a1a1a" stroke-width="0.8" stroke-linejoin="miter"/>
<polygon points="241.4,554.92 246.6,554.92 246.6,560.12 241.4,560.12" fill="#f0703a" stroke="#1a1a1a" stroke-width="0.8" stroke-linejoin="miter"/>
<polygon points="256.13,553.67 261.33,553.67 261.33,558.87 256.13,558.87" fill="#f0703a" stroke="#1a1a1a" stroke-width="0.8" stroke-linejoin="miter"/>
<polygon points="270.86,552.41 276.06,552.41 276.06,557.61 270.86,557.61" fill="#f0703a" stroke="#1a1a1a" stroke-width="0.8" stroke-linejoin="miter"/>
<polygon points="285.59,550.42 290.79,550.42 290.79,555.62 285.59,555.62" fill="#f0703a" stroke="#1a1a1a" stroke-width="0.8" stroke-linejoin="miter"/>
<polygon points="300.32,549.46 305.52,549.46 305.52,554.66 300.32,554.66" fill="#f0703a" stroke="#1a1a1a" stroke-width="0.8" stroke-linejoin="miter"/>
<polygon points="315.05,546.94 320.25,546.94 320.25,552.14 315.05,552.14" fill="#f0703a" stroke="#1a1a1a" stroke-width="0.8" stroke-linejoin="miter"/>
<polygon points="329.78,543.69 334.98,543.69 334.98,548.89 329.78,548.89" fill="#f0703a" stroke="#1a1a1a" stroke-width="0.8" stroke-linejoin="miter"/>
<polygon points="344.52,536.97 349.72,536.97 349.72,542.17 344.52,542.17" fill="#f0703a" stroke="#1a1a1a" stroke-width="0.8" stroke-linejoin="miter"/>
<polygon points="359.25,532.46 364.45,532.46 364.45,537.66 359.25,537.66" fill="#f0703a" stroke="#1a1a1a" stroke-width="0.8" stroke-linejoin="miter"/>
<polygon points="373.98,513.03 379.18,513.03 379.18,518.23 373.98,518.23" fill="#f0703a" stroke="#1a1a1a" stroke-width="0.8" stroke-linejoin="miter"/>
<polygon points="388.71,482.89 393.91,482.89 393.91,488.09 388.71,488.09" fill="#f0703a" stroke="#1a1a1a" stroke-width="0.8" stroke-linejoin="miter"/>
<polygon points="403.44,308.61 408.64,308.61 408.64,313.81 403.44,313.81" fill="#f0703a" stroke="#1a1a1a" stroke-width="0.8" stroke-linejoin="miter"/>
<path d="M52.5 424.98L67.23 497.39L81.96 530.11L96.69 548.81L111.42 555.01L126.15 559.3L140.88 560.48L155.62 561.29L170.35 561.51L185.08 561.51L199.81 561.37L214.54 561.07L229.27 560.7L244 560.18L258.73 559.44L273.46 558.56L288.19 557.38L302.92 556.12L317.65 555.16L332.38 554.27L347.12 552.06L361.85 548.81L376.58 545.04L391.31 540.09L406.04 530.85L420.77 505.14L435.5 407.25" fill="none" stroke="#f4141f" stroke-width="1.5" stroke-linejoin="round"/>
<path d="M49.7 424.98H55.3M52.5 422.18V427.78" stroke="#f4141f" stroke-width="0.9" fill="none"/>
<path d="M64.43 497.39H70.03M67.23 494.59V500.19" stroke="#f4141f" stroke-width="0.9" fill="none"/>
<path d="M79.16 530.11H84.76M81.96 527.31V532.91" stroke="#f4141f" stroke-width="0.9" fill="none"/>
<path d="M93.89 548.81H99.49M96.69 546.01V551.61" stroke="#f4141f" stroke-width="0.9" fill="none"/>
<path d="M108.62 555.01H114.22M111.42 552.21V557.81" stroke="#f4141f" stroke-width="0.9" fill="none"/>
<path d="M123.35 559.3H128.95M126.15 556.5V562.1" stroke="#f4141f" stroke-width="0.9" fill="none"/>
<path d="M138.08 560.48H143.68M140.88 557.68V563.28" stroke="#f4141f" stroke-width="0.9" fill="none"/>
<path d="M152.82 561.29H158.42M155.62 558.49V564.09" stroke="#f4141f" stroke-width="0.9" fill="none"/>
<path d="M167.55 561.51H173.15M170.35 558.71V564.31" stroke="#f4141f" stroke-width="0.9" fill="none"/>
<path d="M182.28 561.51H187.88M185.08 558.71V564.31" stroke="#f4141f" stroke-width="0.9" fill="none"/>
<path d="M197.01 561.37H202.61M199.81 558.57V564.17" stroke="#f4141f" stroke-width="0.9" fill="none"/>
<path d="M211.74 561.07H217.34M214.54 558.27V563.87" stroke="#f4141f" stroke-width="0.9" fill="none"/>
<path d="M226.47 560.7H232.07M229.27 557.9V563.5" stroke="#f4141f" stroke-width="0.9" fill="none"/>
<path d="M241.2 560.18H246.8M244 557.38V562.98" stroke="#f4141f" stroke-width="0.9" fill="none"/>
<path d="M255.93 559.44H261.53M258.73 556.64V562.24" stroke="#f4141f" stroke-width="0.9" fill="none"/>
<path d="M270.66 558.56H276.26M273.46 555.76V561.36" stroke="#f4141f" stroke-width="0.9" fill="none"/>
<path d="M285.39 557.38H290.99M288.19 554.58V560.18" stroke="#f4141f" stroke-width="0.9" fill="none"/>
<path d="M300.12 556.12H305.72M302.92 553.32V558.92" stroke="#f4141f" stroke-width="0.9" fill="none"/>
<path d="M314.85 555.16H320.45M317.65 552.36V557.96" stroke="#f4141f" stroke-width="0.9" fill="none"/>
<path d="M329.58 554.27H335.18M332.38 551.47V557.07" stroke="#f4141f" stroke-width="0.9" fill="none"/>
<path d="M344.32 552.06H349.92M347.12 549.26V554.86" stroke="#f4141f" stroke-width="0.9" fill="none"/>
<path d="M359.05 548.81H364.65M361.85 546.01V551.61" stroke="#f4141f" stroke-width="0.9" fill="none"/>
<path d="M373.78 545.04H379.38M376.58 542.24V547.84" stroke="#f4141f" stroke-width="0.9" fill="none"/>
<path d="M388.51 540.09H394.11M391.31 537.29V542.89" stroke="#f4141f" stroke-width="0.9" fill="none"/>
<path d="M403.24 530.85H408.84M406.04 528.05V533.65" stroke="#f4141f" stroke-width="0.9" fill="none"/>
<path d="M417.97 505.14H423.57M420.77 502.34V507.94" stroke="#f4141f" stroke-width="0.9" fill="none"/>
<path d="M432.7 407.25H438.3M435.5 404.45V410.05" stroke="#f4141f" stroke-width="0.9" fill="none"/>
</g>
<rect x="59.9" y="384.2" width="163.2" height="83.2" fill="#fff" stroke="#000" stroke-width="1"/>
<text x="141.1" y="399.8" font-size="11.65" text-anchor="middle" fill="#000">cluster distance</text>
<path d="M69.4 414.4H89.4" stroke="#2a2af5" stroke-width="1.2"/>
<circle cx="69.4" cy="414.4" r="2.6" fill="#1c1ce8" stroke="#1a1a1a" stroke-width="0.8"/>
<circle cx="89.4" cy="414.4" r="2.6" fill="#1c1ce8" stroke="#1a1a1a" stroke-width="0.8"/>
<text x="106" y="419.8" font-size="13.2" text-anchor="start" fill="#000">5.0</text>
<path d="M69.4 434.5H89.4" stroke="#3f99f7" stroke-width="1.2"/>
<polygon points="66.8,431.9 72,431.9 69.4,437.1" fill="#3590ee" stroke="#1a1a1a" stroke-width="0.8" stroke-linejoin="miter"/>
<polygon points="86.8,431.9 92,431.9 89.4,437.1" fill="#3590ee" stroke="#1a1a1a" stroke-width="0.8" stroke-linejoin="miter"/>
<text x="106" y="439.9" font-size="13.2" text-anchor="start" fill="#000">5.5</text>
<path d="M69.4 454.9H89.4" stroke="#74f0a4" stroke-width="1.2"/>
<polygon points="69.4,452.3 69.98,454.1 71.87,454.1 70.34,455.21 70.93,457 69.4,455.89 67.87,457 68.46,455.21 66.93,454.1 68.82,454.1" fill="#7af0a8" stroke="#1a1a1a" stroke-width="0.8" stroke-linejoin="miter"/>
<polygon points="89.4,452.3 89.98,454.1 91.87,454.1 90.34,455.21 90.93,457 89.4,455.89 87.87,457 88.46,455.21 86.93,454.1 88.82,454.1" fill="#7af0a8" stroke="#1a1a1a" stroke-width="0.8" stroke-linejoin="miter"/>
<text x="106" y="460.3" font-size="13.2" text-anchor="start" fill="#000">6.0</text>
<path d="M159.4 414.4H179.4" stroke="#7bf268" stroke-width="1.2"/>
<polygon points="156.9,416.9 161.9,416.9 159.4,411.9" fill="#8cf070" stroke="#1a1a1a" stroke-width="0.8" stroke-linejoin="miter"/>
<polygon points="176.9,416.9 181.9,416.9 179.4,411.9" fill="#8cf070" stroke="#1a1a1a" stroke-width="0.8" stroke-linejoin="miter"/>
<text x="195.3" y="419.8" font-size="13.2" text-anchor="start" fill="#000">6.5</text>
<path d="M159.4 434.5H179.4" stroke="#f5773f" stroke-width="1.2"/>
<polygon points="156.8,431.9 162,431.9 162,437.1 156.8,437.1" fill="#f0703a" stroke="#1a1a1a" stroke-width="0.8" stroke-linejoin="miter"/>
<polygon points="176.8,431.9 182,431.9 182,437.1 176.8,437.1" fill="#f0703a" stroke="#1a1a1a" stroke-width="0.8" stroke-linejoin="miter"/>
<text x="195.3" y="439.9" font-size="13.2" text-anchor="start" fill="#000">7.0</text>
<path d="M159.4 454.9H179.4" stroke="#f4141f" stroke-width="1.5"/>
<path d="M156.6 454.9H162.2M159.4 452.1V457.7" stroke="#f4141f" stroke-width="0.9" fill="none"/>
<path d="M176.6 454.9H182.2M179.4 452.1V457.7" stroke="#f4141f" stroke-width="0.9" fill="none"/>
<text x="195.3" y="460.3" font-size="13.2" text-anchor="start" fill="#000">7.5</text>
<rect x="52.5" y="377.7" width="383" height="184.7" fill="none" stroke="#000" stroke-width="1.1"/>
<text x="48.3" y="566.5" font-size="11.4" text-anchor="end" fill="#000">0.00</text>
<text x="48.3" y="559.11" font-size="11.4" text-anchor="end" fill="#000">0.01</text>
<text x="48.3" y="529.56" font-size="11.4" text-anchor="end" fill="#000">0.05</text>
<text x="48.3" y="492.62" font-size="11.4" text-anchor="end" fill="#000">0.10</text>
<text x="48.3" y="455.68" font-size="11.4" text-anchor="end" fill="#000">0.15</text>
<text x="48.3" y="418.74" font-size="11.4" text-anchor="end" fill="#000">0.20</text>
<text x="48.3" y="381.8" font-size="11.4" text-anchor="end" fill="#000">0.25</text>
<text x="81.96" y="575.9" font-size="11.4" text-anchor="middle" fill="#000">1.5</text>
<text x="155.62" y="575.9" font-size="11.4" text-anchor="middle" fill="#000">2.0</text>
<text x="229.27" y="575.9" font-size="11.4" text-anchor="middle" fill="#000">2.5</text>
<text x="302.92" y="575.9" font-size="11.4" text-anchor="middle" fill="#000">3.0</text>
<text x="376.58" y="575.9" font-size="11.4" text-anchor="middle" fill="#000">3.5</text>
<path d="M52.5 555.01h3M435.5 555.01h-3M52.5 525.46h3M435.5 525.46h-3M52.5 488.52h3M435.5 488.52h-3M52.5 451.58h3M435.5 451.58h-3M52.5 414.64h3M435.5 414.64h-3M81.96 377.7v3M81.96 562.4v-3M155.62 377.7v3M155.62 562.4v-3M229.27 377.7v3M229.27 562.4v-3M302.92 377.7v3M302.92 562.4v-3M376.58 377.7v3M376.58 562.4v-3" stroke="#000" stroke-width="0.7"/>
<text x="15.4" y="470.75" font-size="11.63" text-anchor="middle" fill="#000" transform="rotate(-90 15.4 470.75)">error probability</text>
<text x="244" y="591.8" font-size="11.63" text-anchor="middle" fill="#000">threshold</text>
</svg>
</body></html>
